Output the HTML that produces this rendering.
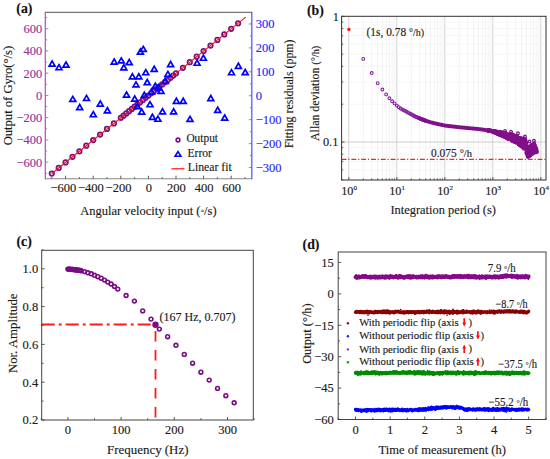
<!DOCTYPE html>
<html><head><meta charset="utf-8"><title>Figure</title>
<style>
html,body{margin:0;padding:0;background:#fff;}
body{width:550px;height:459px;overflow:hidden;}
svg{display:block;}
text{font-family:"Liberation Serif",serif;}
</style></head><body>
<svg width="550" height="459" viewBox="0 0 550 459">
<rect width="550" height="459" fill="#fff"/>
<g fill="none" stroke="#741282" stroke-width="1.75">
<circle cx="51.8" cy="173.51" r="2.25"/>
<circle cx="58.7" cy="167.94" r="2.25"/>
<circle cx="65.6" cy="162.38" r="2.25"/>
<circle cx="72.5" cy="156.81" r="2.25"/>
<circle cx="79.4" cy="151.25" r="2.25"/>
<circle cx="86.3" cy="145.69" r="2.25"/>
<circle cx="93.2" cy="140.12" r="2.25"/>
<circle cx="100.1" cy="134.56" r="2.25"/>
<circle cx="107" cy="128.99" r="2.25"/>
<circle cx="113.9" cy="123.42" r="2.25"/>
<circle cx="120.8" cy="117.86" r="2.25"/>
<circle cx="123.56" cy="115.63" r="2.25"/>
<circle cx="126.32" cy="113.41" r="2.25"/>
<circle cx="129.08" cy="111.18" r="2.25"/>
<circle cx="131.84" cy="108.96" r="2.25"/>
<circle cx="134.6" cy="106.73" r="2.25"/>
<circle cx="137.36" cy="104.5" r="2.25"/>
<circle cx="140.12" cy="102.28" r="2.25"/>
<circle cx="142.88" cy="100.05" r="2.25"/>
<circle cx="145.64" cy="97.83" r="2.25"/>
<circle cx="148.4" cy="95.6" r="2.25"/>
<circle cx="151.16" cy="93.37" r="2.25"/>
<circle cx="153.92" cy="91.15" r="2.25"/>
<circle cx="156.68" cy="88.92" r="2.25"/>
<circle cx="159.44" cy="86.7" r="2.25"/>
<circle cx="162.2" cy="84.47" r="2.25"/>
<circle cx="164.96" cy="82.24" r="2.25"/>
<circle cx="167.72" cy="80.02" r="2.25"/>
<circle cx="170.48" cy="77.79" r="2.25"/>
<circle cx="173.24" cy="75.57" r="2.25"/>
<circle cx="176" cy="73.34" r="2.25"/>
<circle cx="182.9" cy="67.77" r="2.25"/>
<circle cx="189.8" cy="62.21" r="2.25"/>
<circle cx="196.7" cy="56.64" r="2.25"/>
<circle cx="203.6" cy="51.08" r="2.25"/>
<circle cx="210.5" cy="45.51" r="2.25"/>
<circle cx="217.4" cy="39.95" r="2.25"/>
<circle cx="224.3" cy="34.38" r="2.25"/>
<circle cx="231.2" cy="28.82" r="2.25"/>
<circle cx="238.1" cy="23.25" r="2.25"/>
</g>
<line x1="51.52" y1="173.73" x2="245.69" y2="17.13" stroke="#ff1010" stroke-width="1.15" />
<g fill="none" stroke="#0000ff" stroke-width="1.7" stroke-linejoin="miter">
<path d="M52.1 61.05L55.05 66.14L49.15 66.14Z"/>
<path d="M59 64.65L61.95 69.74L56.05 69.74Z"/>
<path d="M66 61.95L68.95 67.04L63.05 67.04Z"/>
<path d="M72.8 96.35L75.75 101.44L69.85 101.44Z"/>
<path d="M79.7 104.55L82.65 109.64L76.75 109.64Z"/>
<path d="M86.5 95.35L89.45 100.44L83.55 100.44Z"/>
<path d="M93.3 111.65L96.25 116.74L90.35 116.74Z"/>
<path d="M100.3 101.05L103.25 106.14L97.35 106.14Z"/>
<path d="M107.4 107.75L110.35 112.84L104.45 112.84Z"/>
<path d="M114.2 58.95L117.15 64.04L111.25 64.04Z"/>
<path d="M121.3 57.85L124.25 62.94L118.35 62.94Z"/>
<path d="M123.8 64.75L126.75 69.84L120.85 69.84Z"/>
<path d="M126.5 91.95L129.45 97.04L123.55 97.04Z"/>
<path d="M129.2 59.55L132.15 64.64L126.25 64.64Z"/>
<path d="M132.4 73.75L135.35 78.84L129.45 78.84Z"/>
<path d="M134.7 96.05L137.65 101.14L131.75 101.14Z"/>
<path d="M136 81.85L138.95 86.94L133.05 86.94Z"/>
<path d="M137.3 103.65L140.25 108.74L134.35 108.74Z"/>
<path d="M138.8 73.75L141.75 78.84L135.85 78.84Z"/>
<path d="M140.4 48.95L143.35 54.04L137.45 54.04Z"/>
<path d="M141.7 109.05L144.65 114.14L138.75 114.14Z"/>
<path d="M143.3 46.35L146.25 51.44L140.35 51.44Z"/>
<path d="M144.3 92.25L147.25 97.34L141.35 97.34Z"/>
<path d="M145.8 69.65L148.75 74.74L142.85 74.74Z"/>
<path d="M147.2 79.55L150.15 84.64L144.25 84.64Z"/>
<path d="M150 101.65L152.95 106.74L147.05 106.74Z"/>
<path d="M151.4 88.95L154.35 94.04L148.45 94.04Z"/>
<path d="M152.4 114.25L155.35 119.34L149.45 119.34Z"/>
<path d="M154.2 66.25L157.15 71.34L151.25 71.34Z"/>
<path d="M155.3 83.25L158.25 88.34L152.35 88.34Z"/>
<path d="M157.9 116.15L160.85 121.24L154.95 121.24Z"/>
<path d="M158.8 84.75L161.75 89.84L155.85 89.84Z"/>
<path d="M161 88.25L163.95 93.34L158.05 93.34Z"/>
<path d="M162.5 108.75L165.45 113.84L159.55 113.84Z"/>
<path d="M165.2 78.25L168.15 83.34L162.25 83.34Z"/>
<path d="M167.9 71.35L170.85 76.44L164.95 76.44Z"/>
<path d="M170.6 61.55L173.55 66.64L167.65 66.64Z"/>
<path d="M173.6 108.75L176.55 113.84L170.65 113.84Z"/>
<path d="M176.4 98.25L179.35 103.34L173.45 103.34Z"/>
<path d="M183.2 98.25L186.15 103.34L180.25 103.34Z"/>
<path d="M190 116.35L192.95 121.44L187.05 121.44Z"/>
<path d="M197.1 60.15L200.05 65.24L194.15 65.24Z"/>
<path d="M203.4 55.15L206.35 60.24L200.45 60.24Z"/>
<path d="M210.8 95.55L213.75 100.64L207.85 100.64Z"/>
<path d="M217.7 107.25L220.65 112.34L214.75 112.34Z"/>
<path d="M224.7 114.95L227.65 120.04L221.75 120.04Z"/>
<path d="M231.5 69.65L234.45 74.74L228.55 74.74Z"/>
<path d="M238.4 63.25L241.35 68.34L235.45 68.34Z"/>
<path d="M245.2 69.55L248.15 74.64L242.25 74.64Z"/>
</g>
<line x1="45.3" y1="12.3" x2="251.8" y2="12.3" stroke="#555" stroke-width="1" />
<line x1="45.3" y1="178.7" x2="251.8" y2="178.7" stroke="#888" stroke-width="1.1" />
<line x1="45.3" y1="11.8" x2="45.3" y2="179.2" stroke="#a555b5" stroke-width="1.2" />
<line x1="251.8" y1="11.8" x2="251.8" y2="179.2" stroke="#5a5aff" stroke-width="1.3" />
<line x1="45.3" y1="173.32" x2="47.1" y2="173.32" stroke="#a555b5" stroke-width="0.8" />
<line x1="45.3" y1="162.2" x2="48.3" y2="162.2" stroke="#a555b5" stroke-width="0.8" />
<text x="42.3" y="166.5" font-size="12.5" text-anchor="end" fill="#98309a" stroke="#98309a" stroke-width="0.14" font-weight="normal" >&#8722;600</text>
<line x1="45.3" y1="151.07" x2="47.1" y2="151.07" stroke="#a555b5" stroke-width="0.8" />
<line x1="45.3" y1="139.95" x2="48.3" y2="139.95" stroke="#a555b5" stroke-width="0.8" />
<text x="42.3" y="144.25" font-size="12.5" text-anchor="end" fill="#98309a" stroke="#98309a" stroke-width="0.14" font-weight="normal" >&#8722;400</text>
<line x1="45.3" y1="128.82" x2="47.1" y2="128.82" stroke="#a555b5" stroke-width="0.8" />
<line x1="45.3" y1="117.7" x2="48.3" y2="117.7" stroke="#a555b5" stroke-width="0.8" />
<text x="42.3" y="122" font-size="12.5" text-anchor="end" fill="#98309a" stroke="#98309a" stroke-width="0.14" font-weight="normal" >&#8722;200</text>
<line x1="45.3" y1="106.58" x2="47.1" y2="106.58" stroke="#a555b5" stroke-width="0.8" />
<line x1="45.3" y1="95.45" x2="48.3" y2="95.45" stroke="#a555b5" stroke-width="0.8" />
<text x="42.3" y="99.75" font-size="12.5" text-anchor="end" fill="#98309a" stroke="#98309a" stroke-width="0.14" font-weight="normal" >0</text>
<line x1="45.3" y1="84.33" x2="47.1" y2="84.33" stroke="#a555b5" stroke-width="0.8" />
<line x1="45.3" y1="73.2" x2="48.3" y2="73.2" stroke="#a555b5" stroke-width="0.8" />
<text x="42.3" y="77.5" font-size="12.5" text-anchor="end" fill="#98309a" stroke="#98309a" stroke-width="0.14" font-weight="normal" >200</text>
<line x1="45.3" y1="62.08" x2="47.1" y2="62.08" stroke="#a555b5" stroke-width="0.8" />
<line x1="45.3" y1="50.95" x2="48.3" y2="50.95" stroke="#a555b5" stroke-width="0.8" />
<text x="42.3" y="55.25" font-size="12.5" text-anchor="end" fill="#98309a" stroke="#98309a" stroke-width="0.14" font-weight="normal" >400</text>
<line x1="45.3" y1="39.83" x2="47.1" y2="39.83" stroke="#a555b5" stroke-width="0.8" />
<line x1="45.3" y1="28.7" x2="48.3" y2="28.7" stroke="#a555b5" stroke-width="0.8" />
<text x="42.3" y="33" font-size="12.5" text-anchor="end" fill="#98309a" stroke="#98309a" stroke-width="0.14" font-weight="normal" >600</text>
<line x1="45.3" y1="17.58" x2="47.1" y2="17.58" stroke="#a555b5" stroke-width="0.8" />
<line x1="51.8" y1="178.7" x2="51.8" y2="177.1" stroke="#333" stroke-width="0.8" />
<line x1="65.6" y1="178.7" x2="65.6" y2="175.7" stroke="#333" stroke-width="0.8" />
<text x="63.3" y="191.6" font-size="12.5" text-anchor="middle" fill="#1a1a1a" stroke="#1a1a1a" stroke-width="0.14" font-weight="normal" >&#8722;600</text>
<line x1="79.4" y1="178.7" x2="79.4" y2="177.1" stroke="#333" stroke-width="0.8" />
<line x1="93.2" y1="178.7" x2="93.2" y2="175.7" stroke="#333" stroke-width="0.8" />
<text x="90.9" y="191.6" font-size="12.5" text-anchor="middle" fill="#1a1a1a" stroke="#1a1a1a" stroke-width="0.14" font-weight="normal" >&#8722;400</text>
<line x1="107" y1="178.7" x2="107" y2="177.1" stroke="#333" stroke-width="0.8" />
<line x1="120.8" y1="178.7" x2="120.8" y2="175.7" stroke="#333" stroke-width="0.8" />
<text x="118.5" y="191.6" font-size="12.5" text-anchor="middle" fill="#1a1a1a" stroke="#1a1a1a" stroke-width="0.14" font-weight="normal" >&#8722;200</text>
<line x1="134.6" y1="178.7" x2="134.6" y2="177.1" stroke="#333" stroke-width="0.8" />
<line x1="148.4" y1="178.7" x2="148.4" y2="175.7" stroke="#333" stroke-width="0.8" />
<text x="148.8" y="191.6" font-size="12.5" text-anchor="middle" fill="#1a1a1a" stroke="#1a1a1a" stroke-width="0.14" font-weight="normal" >0</text>
<line x1="162.2" y1="178.7" x2="162.2" y2="177.1" stroke="#333" stroke-width="0.8" />
<line x1="176" y1="178.7" x2="176" y2="175.7" stroke="#333" stroke-width="0.8" />
<text x="176.4" y="191.6" font-size="12.5" text-anchor="middle" fill="#1a1a1a" stroke="#1a1a1a" stroke-width="0.14" font-weight="normal" >200</text>
<line x1="189.8" y1="178.7" x2="189.8" y2="177.1" stroke="#333" stroke-width="0.8" />
<line x1="203.6" y1="178.7" x2="203.6" y2="175.7" stroke="#333" stroke-width="0.8" />
<text x="204" y="191.6" font-size="12.5" text-anchor="middle" fill="#1a1a1a" stroke="#1a1a1a" stroke-width="0.14" font-weight="normal" >400</text>
<line x1="217.4" y1="178.7" x2="217.4" y2="177.1" stroke="#333" stroke-width="0.8" />
<line x1="231.2" y1="178.7" x2="231.2" y2="175.7" stroke="#333" stroke-width="0.8" />
<text x="231.6" y="191.6" font-size="12.5" text-anchor="middle" fill="#1a1a1a" stroke="#1a1a1a" stroke-width="0.14" font-weight="normal" >600</text>
<line x1="245" y1="178.7" x2="245" y2="177.1" stroke="#333" stroke-width="0.8" />
<line x1="251.8" y1="167.54" x2="248.8" y2="167.54" stroke="#5a5aff" stroke-width="0.8" />
<text x="255.8" y="171.84" font-size="12.5" text-anchor="start" fill="#2626ff" stroke="#2626ff" stroke-width="0.14" font-weight="normal" >&#8722;300</text>
<line x1="251.8" y1="155.57" x2="250" y2="155.57" stroke="#5a5aff" stroke-width="0.8" />
<line x1="251.8" y1="143.61" x2="248.8" y2="143.61" stroke="#5a5aff" stroke-width="0.8" />
<text x="255.8" y="147.91" font-size="12.5" text-anchor="start" fill="#2626ff" stroke="#2626ff" stroke-width="0.14" font-weight="normal" >&#8722;200</text>
<line x1="251.8" y1="131.65" x2="250" y2="131.65" stroke="#5a5aff" stroke-width="0.8" />
<line x1="251.8" y1="119.68" x2="248.8" y2="119.68" stroke="#5a5aff" stroke-width="0.8" />
<text x="255.8" y="123.98" font-size="12.5" text-anchor="start" fill="#2626ff" stroke="#2626ff" stroke-width="0.14" font-weight="normal" >&#8722;100</text>
<line x1="251.8" y1="107.72" x2="250" y2="107.72" stroke="#5a5aff" stroke-width="0.8" />
<line x1="251.8" y1="95.75" x2="248.8" y2="95.75" stroke="#5a5aff" stroke-width="0.8" />
<text x="255.8" y="100.05" font-size="12.5" text-anchor="start" fill="#2626ff" stroke="#2626ff" stroke-width="0.14" font-weight="normal" >0</text>
<line x1="251.8" y1="83.78" x2="250" y2="83.78" stroke="#5a5aff" stroke-width="0.8" />
<line x1="251.8" y1="71.82" x2="248.8" y2="71.82" stroke="#5a5aff" stroke-width="0.8" />
<text x="255.8" y="76.12" font-size="12.5" text-anchor="start" fill="#2626ff" stroke="#2626ff" stroke-width="0.14" font-weight="normal" >100</text>
<line x1="251.8" y1="59.85" x2="250" y2="59.85" stroke="#5a5aff" stroke-width="0.8" />
<line x1="251.8" y1="47.89" x2="248.8" y2="47.89" stroke="#5a5aff" stroke-width="0.8" />
<text x="255.8" y="52.19" font-size="12.5" text-anchor="start" fill="#2626ff" stroke="#2626ff" stroke-width="0.14" font-weight="normal" >200</text>
<line x1="251.8" y1="35.92" x2="250" y2="35.92" stroke="#5a5aff" stroke-width="0.8" />
<line x1="251.8" y1="23.96" x2="248.8" y2="23.96" stroke="#5a5aff" stroke-width="0.8" />
<text x="255.8" y="28.26" font-size="12.5" text-anchor="start" fill="#2626ff" stroke="#2626ff" stroke-width="0.14" font-weight="normal" >300</text>
<text x="16.3" y="13.4" font-size="13.8" text-anchor="start" fill="#111" stroke="#111" stroke-width="0.14" font-weight="bold" >(a)</text>
<text id="A_tb" x="148.4" y="214.9" font-size="12.4" text-anchor="middle" fill="#1a1a1a" stroke="#1a1a1a" stroke-width="0.14" font-weight="normal" textLength="136.38" lengthAdjust="spacingAndGlyphs">Angular velocity input (<tspan font-size="10" dy="-1">&#9702;</tspan><tspan dy="1">/s)</tspan></text>
<text id="A_tl" transform="translate(12.4,95.6) rotate(-90)" font-size="12.6" text-anchor="middle" fill="#1a1a1a" stroke="#1a1a1a" stroke-width="0.14" font-weight="normal" textLength="99.48" lengthAdjust="spacingAndGlyphs">Output of Gyro(&#176;/s)</text>
<text id="A_tr" transform="translate(292.6,93.8) rotate(-90)" font-size="12.0" text-anchor="middle" fill="#1a1a1a" stroke="#1a1a1a" stroke-width="0.14" font-weight="normal" textLength="108.60" lengthAdjust="spacingAndGlyphs">Fitting residuals (ppm)</text>
<circle cx="178" cy="140" r="1.85" fill="none" stroke="#741282" stroke-width="1.6"/>
<text id="A_o" x="186.4" y="142.2" font-size="11.5" text-anchor="start" fill="#1a1a1a" stroke="#1a1a1a" stroke-width="0.14" font-weight="normal" textLength="31.64" lengthAdjust="spacingAndGlyphs">Output</text>
<path d="M178 151.6L180.9 156.2L175.1 156.2Z" fill="none" stroke="#0000ff" stroke-width="1.6"/>
<text id="A_e" x="187.5" y="157.3" font-size="11.5" text-anchor="start" fill="#1a1a1a" stroke="#1a1a1a" stroke-width="0.14" font-weight="normal" textLength="24.44" lengthAdjust="spacingAndGlyphs">Error</text>
<line x1="171.5" y1="168.8" x2="184.5" y2="168.8" stroke="#ff1010" stroke-width="1.2" />
<text id="A_lf" x="187.8" y="171.3" font-size="11.5" text-anchor="start" fill="#1a1a1a" stroke="#1a1a1a" stroke-width="0.14" font-weight="normal" textLength="43.94" lengthAdjust="spacingAndGlyphs">Linear fit</text>
<line x1="348.8" y1="16.3" x2="348.8" y2="180" stroke="#cdcdcd" stroke-width="0.9" />
<line x1="363.25" y1="16.3" x2="363.25" y2="180" stroke="#f0f0f0" stroke-width="0.8" />
<line x1="371.7" y1="16.3" x2="371.7" y2="180" stroke="#f0f0f0" stroke-width="0.8" />
<line x1="377.7" y1="16.3" x2="377.7" y2="180" stroke="#f0f0f0" stroke-width="0.8" />
<line x1="382.35" y1="16.3" x2="382.35" y2="180" stroke="#f0f0f0" stroke-width="0.8" />
<line x1="386.15" y1="16.3" x2="386.15" y2="180" stroke="#f0f0f0" stroke-width="0.8" />
<line x1="389.36" y1="16.3" x2="389.36" y2="180" stroke="#f0f0f0" stroke-width="0.8" />
<line x1="392.15" y1="16.3" x2="392.15" y2="180" stroke="#f0f0f0" stroke-width="0.8" />
<line x1="394.6" y1="16.3" x2="394.6" y2="180" stroke="#f0f0f0" stroke-width="0.8" />
<line x1="396.8" y1="16.3" x2="396.8" y2="180" stroke="#cdcdcd" stroke-width="0.9" />
<line x1="411.25" y1="16.3" x2="411.25" y2="180" stroke="#f0f0f0" stroke-width="0.8" />
<line x1="419.7" y1="16.3" x2="419.7" y2="180" stroke="#f0f0f0" stroke-width="0.8" />
<line x1="425.7" y1="16.3" x2="425.7" y2="180" stroke="#f0f0f0" stroke-width="0.8" />
<line x1="430.35" y1="16.3" x2="430.35" y2="180" stroke="#f0f0f0" stroke-width="0.8" />
<line x1="434.15" y1="16.3" x2="434.15" y2="180" stroke="#f0f0f0" stroke-width="0.8" />
<line x1="437.36" y1="16.3" x2="437.36" y2="180" stroke="#f0f0f0" stroke-width="0.8" />
<line x1="440.15" y1="16.3" x2="440.15" y2="180" stroke="#f0f0f0" stroke-width="0.8" />
<line x1="442.6" y1="16.3" x2="442.6" y2="180" stroke="#f0f0f0" stroke-width="0.8" />
<line x1="444.8" y1="16.3" x2="444.8" y2="180" stroke="#cdcdcd" stroke-width="0.9" />
<line x1="459.25" y1="16.3" x2="459.25" y2="180" stroke="#f0f0f0" stroke-width="0.8" />
<line x1="467.7" y1="16.3" x2="467.7" y2="180" stroke="#f0f0f0" stroke-width="0.8" />
<line x1="473.7" y1="16.3" x2="473.7" y2="180" stroke="#f0f0f0" stroke-width="0.8" />
<line x1="478.35" y1="16.3" x2="478.35" y2="180" stroke="#f0f0f0" stroke-width="0.8" />
<line x1="482.15" y1="16.3" x2="482.15" y2="180" stroke="#f0f0f0" stroke-width="0.8" />
<line x1="485.36" y1="16.3" x2="485.36" y2="180" stroke="#f0f0f0" stroke-width="0.8" />
<line x1="488.15" y1="16.3" x2="488.15" y2="180" stroke="#f0f0f0" stroke-width="0.8" />
<line x1="490.6" y1="16.3" x2="490.6" y2="180" stroke="#f0f0f0" stroke-width="0.8" />
<line x1="492.8" y1="16.3" x2="492.8" y2="180" stroke="#cdcdcd" stroke-width="0.9" />
<line x1="507.25" y1="16.3" x2="507.25" y2="180" stroke="#f0f0f0" stroke-width="0.8" />
<line x1="515.7" y1="16.3" x2="515.7" y2="180" stroke="#f0f0f0" stroke-width="0.8" />
<line x1="521.7" y1="16.3" x2="521.7" y2="180" stroke="#f0f0f0" stroke-width="0.8" />
<line x1="526.35" y1="16.3" x2="526.35" y2="180" stroke="#f0f0f0" stroke-width="0.8" />
<line x1="530.15" y1="16.3" x2="530.15" y2="180" stroke="#f0f0f0" stroke-width="0.8" />
<line x1="533.36" y1="16.3" x2="533.36" y2="180" stroke="#f0f0f0" stroke-width="0.8" />
<line x1="536.15" y1="16.3" x2="536.15" y2="180" stroke="#f0f0f0" stroke-width="0.8" />
<line x1="538.6" y1="16.3" x2="538.6" y2="180" stroke="#f0f0f0" stroke-width="0.8" />
<line x1="540.8" y1="16.3" x2="540.8" y2="180" stroke="#cdcdcd" stroke-width="0.9" />
<line x1="341.6" y1="179.84" x2="546" y2="179.84" stroke="#f2f2f2" stroke-width="0.8" />
<line x1="341.6" y1="169.89" x2="546" y2="169.89" stroke="#f2f2f2" stroke-width="0.8" />
<line x1="341.6" y1="161.47" x2="546" y2="161.47" stroke="#f2f2f2" stroke-width="0.8" />
<line x1="341.6" y1="154.18" x2="546" y2="154.18" stroke="#f2f2f2" stroke-width="0.8" />
<line x1="341.6" y1="147.75" x2="546" y2="147.75" stroke="#f2f2f2" stroke-width="0.8" />
<line x1="341.6" y1="142" x2="546" y2="142" stroke="#c8c8c8" stroke-width="0.9" />
<line x1="341.6" y1="104.16" x2="546" y2="104.16" stroke="#f2f2f2" stroke-width="0.8" />
<line x1="341.6" y1="82.03" x2="546" y2="82.03" stroke="#f2f2f2" stroke-width="0.8" />
<line x1="341.6" y1="66.32" x2="546" y2="66.32" stroke="#f2f2f2" stroke-width="0.8" />
<line x1="341.6" y1="54.14" x2="546" y2="54.14" stroke="#f2f2f2" stroke-width="0.8" />
<line x1="341.6" y1="44.19" x2="546" y2="44.19" stroke="#f2f2f2" stroke-width="0.8" />
<line x1="341.6" y1="35.77" x2="546" y2="35.77" stroke="#f2f2f2" stroke-width="0.8" />
<line x1="341.6" y1="28.48" x2="546" y2="28.48" stroke="#f2f2f2" stroke-width="0.8" />
<line x1="341.6" y1="22.05" x2="546" y2="22.05" stroke="#f2f2f2" stroke-width="0.8" />
<line x1="348.8" y1="180" x2="348.8" y2="177" stroke="#333" stroke-width="0.8" />
<line x1="363.25" y1="180" x2="363.25" y2="178.4" stroke="#333" stroke-width="0.8" />
<line x1="371.7" y1="180" x2="371.7" y2="178.4" stroke="#333" stroke-width="0.8" />
<line x1="377.7" y1="180" x2="377.7" y2="178.4" stroke="#333" stroke-width="0.8" />
<line x1="382.35" y1="180" x2="382.35" y2="178.4" stroke="#333" stroke-width="0.8" />
<line x1="386.15" y1="180" x2="386.15" y2="178.4" stroke="#333" stroke-width="0.8" />
<line x1="389.36" y1="180" x2="389.36" y2="178.4" stroke="#333" stroke-width="0.8" />
<line x1="392.15" y1="180" x2="392.15" y2="178.4" stroke="#333" stroke-width="0.8" />
<line x1="394.6" y1="180" x2="394.6" y2="178.4" stroke="#333" stroke-width="0.8" />
<line x1="396.8" y1="180" x2="396.8" y2="177" stroke="#333" stroke-width="0.8" />
<line x1="411.25" y1="180" x2="411.25" y2="178.4" stroke="#333" stroke-width="0.8" />
<line x1="419.7" y1="180" x2="419.7" y2="178.4" stroke="#333" stroke-width="0.8" />
<line x1="425.7" y1="180" x2="425.7" y2="178.4" stroke="#333" stroke-width="0.8" />
<line x1="430.35" y1="180" x2="430.35" y2="178.4" stroke="#333" stroke-width="0.8" />
<line x1="434.15" y1="180" x2="434.15" y2="178.4" stroke="#333" stroke-width="0.8" />
<line x1="437.36" y1="180" x2="437.36" y2="178.4" stroke="#333" stroke-width="0.8" />
<line x1="440.15" y1="180" x2="440.15" y2="178.4" stroke="#333" stroke-width="0.8" />
<line x1="442.6" y1="180" x2="442.6" y2="178.4" stroke="#333" stroke-width="0.8" />
<line x1="444.8" y1="180" x2="444.8" y2="177" stroke="#333" stroke-width="0.8" />
<line x1="459.25" y1="180" x2="459.25" y2="178.4" stroke="#333" stroke-width="0.8" />
<line x1="467.7" y1="180" x2="467.7" y2="178.4" stroke="#333" stroke-width="0.8" />
<line x1="473.7" y1="180" x2="473.7" y2="178.4" stroke="#333" stroke-width="0.8" />
<line x1="478.35" y1="180" x2="478.35" y2="178.4" stroke="#333" stroke-width="0.8" />
<line x1="482.15" y1="180" x2="482.15" y2="178.4" stroke="#333" stroke-width="0.8" />
<line x1="485.36" y1="180" x2="485.36" y2="178.4" stroke="#333" stroke-width="0.8" />
<line x1="488.15" y1="180" x2="488.15" y2="178.4" stroke="#333" stroke-width="0.8" />
<line x1="490.6" y1="180" x2="490.6" y2="178.4" stroke="#333" stroke-width="0.8" />
<line x1="492.8" y1="180" x2="492.8" y2="177" stroke="#333" stroke-width="0.8" />
<line x1="507.25" y1="180" x2="507.25" y2="178.4" stroke="#333" stroke-width="0.8" />
<line x1="515.7" y1="180" x2="515.7" y2="178.4" stroke="#333" stroke-width="0.8" />
<line x1="521.7" y1="180" x2="521.7" y2="178.4" stroke="#333" stroke-width="0.8" />
<line x1="526.35" y1="180" x2="526.35" y2="178.4" stroke="#333" stroke-width="0.8" />
<line x1="530.15" y1="180" x2="530.15" y2="178.4" stroke="#333" stroke-width="0.8" />
<line x1="533.36" y1="180" x2="533.36" y2="178.4" stroke="#333" stroke-width="0.8" />
<line x1="536.15" y1="180" x2="536.15" y2="178.4" stroke="#333" stroke-width="0.8" />
<line x1="538.6" y1="180" x2="538.6" y2="178.4" stroke="#333" stroke-width="0.8" />
<line x1="540.8" y1="180" x2="540.8" y2="177" stroke="#333" stroke-width="0.8" />
<line x1="341.6" y1="179.84" x2="343.2" y2="179.84" stroke="#333" stroke-width="0.8" />
<line x1="341.6" y1="169.89" x2="343.2" y2="169.89" stroke="#333" stroke-width="0.8" />
<line x1="341.6" y1="161.47" x2="343.2" y2="161.47" stroke="#333" stroke-width="0.8" />
<line x1="341.6" y1="154.18" x2="343.2" y2="154.18" stroke="#333" stroke-width="0.8" />
<line x1="341.6" y1="147.75" x2="343.2" y2="147.75" stroke="#333" stroke-width="0.8" />
<line x1="341.6" y1="142" x2="344.6" y2="142" stroke="#333" stroke-width="0.8" />
<line x1="341.6" y1="104.16" x2="343.2" y2="104.16" stroke="#333" stroke-width="0.8" />
<line x1="341.6" y1="82.03" x2="343.2" y2="82.03" stroke="#333" stroke-width="0.8" />
<line x1="341.6" y1="66.32" x2="343.2" y2="66.32" stroke="#333" stroke-width="0.8" />
<line x1="341.6" y1="54.14" x2="343.2" y2="54.14" stroke="#333" stroke-width="0.8" />
<line x1="341.6" y1="44.19" x2="343.2" y2="44.19" stroke="#333" stroke-width="0.8" />
<line x1="341.6" y1="35.77" x2="343.2" y2="35.77" stroke="#333" stroke-width="0.8" />
<line x1="341.6" y1="28.48" x2="343.2" y2="28.48" stroke="#333" stroke-width="0.8" />
<line x1="341.6" y1="22.05" x2="343.2" y2="22.05" stroke="#333" stroke-width="0.8" />
<line x1="341.6" y1="16.3" x2="344.6" y2="16.3" stroke="#333" stroke-width="0.8" />
<line x1="341.6" y1="159.4" x2="546" y2="159.4" stroke="#ff2020" stroke-width="1.1" stroke-dasharray="4.9 1.8 1.2 1.9"/>
<g fill="none" stroke="#8a22a0" stroke-width="1.1">
<circle cx="363.25" cy="58.89" r="1.4"/>
<circle cx="371.7" cy="73.04" r="1.4"/>
<circle cx="377.7" cy="83.16" r="1.4"/>
<circle cx="382.35" cy="89.5" r="1.4"/>
<circle cx="386.15" cy="94.41" r="1.4"/>
<circle cx="389.36" cy="98.24" r="1.4"/>
<circle cx="392.15" cy="101.23" r="1.4"/>
<circle cx="394.6" cy="103.42" r="1.4"/>
<circle cx="396.8" cy="105.6" r="1.4"/>
<circle cx="398.79" cy="107.21" r="1.4"/>
<circle cx="400.6" cy="108.52" r="1.4"/>
<circle cx="402.27" cy="109.43" r="1.4"/>
<circle cx="403.81" cy="110.26" r="1.4"/>
<circle cx="405.25" cy="111.04" r="1.4"/>
<circle cx="406.6" cy="111.76" r="1.4"/>
<circle cx="407.86" cy="112.45" r="1.4"/>
<circle cx="409.05" cy="113.09" r="1.4"/>
<circle cx="410.18" cy="113.7" r="1.4"/>
<circle cx="411.25" cy="114.3" r="1.4"/>
<circle cx="412.27" cy="114.87" r="1.4"/>
<circle cx="413.24" cy="115.41" r="1.4"/>
<circle cx="414.16" cy="115.93" r="1.4"/>
<circle cx="415.05" cy="116.42" r="1.4"/>
<circle cx="415.9" cy="116.78" r="1.4"/>
<circle cx="416.72" cy="117.12" r="1.4"/>
<circle cx="417.51" cy="117.45" r="1.4"/>
<circle cx="418.26" cy="117.77" r="1.4"/>
<circle cx="419" cy="118.08" r="1.4"/>
<circle cx="419.7" cy="118.37" r="1.4"/>
<circle cx="420.39" cy="118.65" r="1.4"/>
<circle cx="421.05" cy="118.92" r="1.4"/>
<circle cx="421.69" cy="119.18" r="1.4"/>
<circle cx="422.31" cy="119.42" r="1.4"/>
<circle cx="422.92" cy="119.67" r="1.4"/>
<circle cx="423.5" cy="119.9" r="1.4"/>
<circle cx="424.07" cy="120.13" r="1.4"/>
<circle cx="424.63" cy="120.35" r="1.4"/>
<circle cx="425.17" cy="120.55" r="1.4"/>
<circle cx="425.7" cy="120.72" r="1.4"/>
</g>
<polyline fill="none" stroke="#80108a" stroke-width="3.9" stroke-linecap="round" stroke-linejoin="round" points="419.7,118.37 420.2,118.58 420.7,118.78 421.2,118.98 421.7,119.18 422.2,119.38 422.7,119.58 423.2,119.78 423.7,119.98 424.2,120.18 424.7,120.38 425.2,120.56 425.7,120.72 426.2,120.88 426.7,121.04 427.2,121.2 427.7,121.36 428.2,121.52 428.7,121.68 429.2,121.84 429.7,122 430.2,122.15 430.7,122.28 431.2,122.41 431.7,122.54 432.2,122.67 432.7,122.8 433.2,122.93 433.7,123.06 434.2,123.19 434.7,123.32 435.2,123.44 435.7,123.55 436.2,123.66 436.7,123.77 437.2,123.88 437.7,123.99 438.2,124.1 438.7,124.21 439.2,124.32 439.7,124.43 440.2,124.54 440.7,124.65 441.2,124.76 441.7,124.87 442.2,124.98 442.7,125.09 443.2,125.2 443.7,125.31 444.2,125.42 444.7,125.53 445.2,125.62 445.7,125.68 446.2,125.74 446.7,125.79 447.2,125.85 447.7,125.91 448.2,125.96 448.7,126.02 449.2,126.08 449.7,126.13 450.2,126.19 450.7,126.25 451.2,126.3 451.7,126.36 452.2,126.42 452.7,126.47 453.2,126.53 453.7,126.59 454.2,126.64 454.7,126.7 455.2,126.76 455.7,126.81 456.2,126.87 456.7,126.93 457.2,126.98 457.7,127.04 458.2,127.1 458.7,127.15 459.2,127.21 459.7,127.27 460.2,127.32 460.7,127.37 461.2,127.41 461.7,127.46 462.2,127.51 462.7,127.56 463.2,127.6 463.7,127.65 464.2,127.7 464.7,127.75 465.2,127.79 465.7,127.84 466.2,127.89 466.7,127.94 467.2,127.98 467.7,128.03 468.2,128.08 468.7,128.13 469.2,128.17 469.7,128.22 470.2,128.27 470.7,128.32 471.2,128.36 471.7,128.41 472.2,128.46 472.7,128.51 473.2,128.55 473.7,128.6 474.2,128.65 474.7,128.7 475.2,128.74 475.7,128.79 476.2,128.84 476.7,128.89 477.2,128.93 477.7,128.98 478.2,129.03 478.7,129.08 479.2,129.12 479.7,129.17 480.2,129.23 480.7,129.31 481.2,129.39 481.7,129.47 482.2,129.55 482.7,129.63 483.2,129.71 483.7,129.79 484.2,129.87 484.7,129.94 485.2,130.02 485.7,130.1 486.2,130.18 486.7,130.26 487.2,130.34 487.7,130.42 488.2,130.5 488.7,130.58 489.2,130.66 489.7,130.74 490.2,130.82 490.7,130.89 491.2,130.97 491.7,131.05 492.2,131.16 492.7,131.31 493.2,131.46 493.7,131.61 494.2,131.76 494.7,131.91 495.2,132.06 495.7,132.21 496.2,132.36 496.7,132.51 497.2,132.66 497.7,132.81 498.2,132.96 498.7,133.11 499.2,133.26 499.7,133.41"/>
<g fill="none" stroke="#80108a" stroke-width="1.25">
<circle cx="503.87" cy="133.3" r="1.35"/>
<circle cx="519.9" cy="138.04" r="1.35"/>
<circle cx="514.26" cy="137.77" r="1.35"/>
<circle cx="490.84" cy="130.92" r="1.35"/>
<circle cx="489.84" cy="130.76" r="1.35"/>
<circle cx="491.42" cy="130.82" r="1.35"/>
<circle cx="508.8" cy="138.3" r="1.35"/>
<circle cx="494.07" cy="131.36" r="1.35"/>
<circle cx="518.74" cy="144.3" r="1.35"/>
<circle cx="516.28" cy="138.92" r="1.35"/>
<circle cx="535.84" cy="147.88" r="1.35"/>
<circle cx="530.06" cy="148.38" r="1.35"/>
<circle cx="495.07" cy="131.4" r="1.35"/>
<circle cx="503.12" cy="135.74" r="1.35"/>
<circle cx="496.86" cy="132.74" r="1.35"/>
<circle cx="519.31" cy="140.16" r="1.35"/>
<circle cx="514.84" cy="136.04" r="1.35"/>
<circle cx="490.92" cy="130.84" r="1.35"/>
<circle cx="521.34" cy="141.53" r="1.35"/>
<circle cx="503.39" cy="134.93" r="1.35"/>
<circle cx="510.21" cy="135.47" r="1.35"/>
<circle cx="526.92" cy="151.14" r="1.35"/>
<circle cx="499.96" cy="133.73" r="1.35"/>
<circle cx="513.73" cy="140.89" r="1.35"/>
<circle cx="523.74" cy="141.2" r="1.35"/>
<circle cx="536.03" cy="148.69" r="1.35"/>
<circle cx="508.49" cy="137.74" r="1.35"/>
<circle cx="495.45" cy="132.11" r="1.35"/>
<circle cx="489.92" cy="130.77" r="1.35"/>
<circle cx="525.46" cy="145.99" r="1.35"/>
<circle cx="530.9" cy="148.29" r="1.35"/>
<circle cx="522.07" cy="143.41" r="1.35"/>
<circle cx="516.41" cy="139.4" r="1.35"/>
<circle cx="529.16" cy="155.76" r="1.35"/>
<circle cx="511.23" cy="138.35" r="1.35"/>
<circle cx="490.97" cy="131" r="1.35"/>
<circle cx="519.71" cy="145.26" r="1.35"/>
<circle cx="528.27" cy="149" r="1.35"/>
<circle cx="506.9" cy="136.59" r="1.35"/>
<circle cx="489.11" cy="130.64" r="1.35"/>
<circle cx="496.23" cy="131.61" r="1.35"/>
<circle cx="490.89" cy="131" r="1.35"/>
<circle cx="494.34" cy="131.45" r="1.35"/>
<circle cx="507.16" cy="137.78" r="1.35"/>
<circle cx="491.95" cy="131.06" r="1.35"/>
<circle cx="514.92" cy="141.49" r="1.35"/>
<circle cx="528.14" cy="155.71" r="1.35"/>
<circle cx="501.64" cy="133.72" r="1.35"/>
<circle cx="505.58" cy="137.07" r="1.35"/>
<circle cx="534.93" cy="146.32" r="1.35"/>
<circle cx="496.63" cy="131.92" r="1.35"/>
<circle cx="499.43" cy="133.28" r="1.35"/>
<circle cx="516.87" cy="138.24" r="1.35"/>
<circle cx="488.2" cy="130.5" r="1.35"/>
<circle cx="506.09" cy="135.77" r="1.35"/>
<circle cx="534.7" cy="150.14" r="1.35"/>
<circle cx="513.26" cy="138.98" r="1.35"/>
<circle cx="521.13" cy="138.2" r="1.35"/>
<circle cx="532.08" cy="151.87" r="1.35"/>
<circle cx="530.85" cy="152.91" r="1.35"/>
<circle cx="507.23" cy="135.27" r="1.35"/>
<circle cx="493.07" cy="131.55" r="1.35"/>
<circle cx="491.05" cy="130.8" r="1.35"/>
<circle cx="498.23" cy="132.08" r="1.35"/>
<circle cx="504.66" cy="133.06" r="1.35"/>
<circle cx="488.01" cy="130.47" r="1.35"/>
<circle cx="492.97" cy="131.26" r="1.35"/>
<circle cx="489.25" cy="130.66" r="1.35"/>
<circle cx="518.09" cy="137.92" r="1.35"/>
<circle cx="500.36" cy="133.11" r="1.35"/>
<circle cx="505.84" cy="133.57" r="1.35"/>
<circle cx="529.6" cy="155.89" r="1.35"/>
<circle cx="510.83" cy="136.98" r="1.35"/>
<circle cx="492.21" cy="130.88" r="1.35"/>
<circle cx="504.79" cy="134.01" r="1.35"/>
<circle cx="528.61" cy="147.5" r="1.35"/>
<circle cx="489.13" cy="130.65" r="1.35"/>
<circle cx="513.88" cy="136.15" r="1.35"/>
<circle cx="514.62" cy="135.7" r="1.35"/>
<circle cx="513.88" cy="141.64" r="1.35"/>
<circle cx="530.3" cy="152.32" r="1.35"/>
<circle cx="500.79" cy="133.3" r="1.35"/>
<circle cx="496.19" cy="132.89" r="1.35"/>
<circle cx="514.1" cy="140.43" r="1.35"/>
<circle cx="504.15" cy="133.67" r="1.35"/>
<circle cx="527.76" cy="156.6" r="1.35"/>
<circle cx="529.78" cy="153.8" r="1.35"/>
<circle cx="528.1" cy="154.31" r="1.35"/>
<circle cx="499.11" cy="133.28" r="1.35"/>
<circle cx="505.42" cy="133.08" r="1.35"/>
<circle cx="489.37" cy="130.68" r="1.35"/>
<circle cx="500.7" cy="134.37" r="1.35"/>
<circle cx="534.87" cy="148.43" r="1.35"/>
<circle cx="533.91" cy="152.64" r="1.35"/>
<circle cx="534.8" cy="147.68" r="1.35"/>
<circle cx="498.8" cy="132.37" r="1.35"/>
<circle cx="497.64" cy="132.07" r="1.35"/>
<circle cx="518.58" cy="143.83" r="1.35"/>
<circle cx="529.18" cy="150.75" r="1.35"/>
<circle cx="520" cy="143.89" r="1.35"/>
<circle cx="492.15" cy="131.26" r="1.35"/>
<circle cx="532.58" cy="151.53" r="1.35"/>
<circle cx="524.76" cy="143.64" r="1.35"/>
<circle cx="496.75" cy="133.15" r="1.35"/>
<circle cx="504.29" cy="136.15" r="1.35"/>
<circle cx="535.61" cy="149.22" r="1.35"/>
<circle cx="507.67" cy="138.44" r="1.35"/>
<circle cx="523.52" cy="139.92" r="1.35"/>
<circle cx="494.22" cy="131.3" r="1.35"/>
<circle cx="532.34" cy="151.94" r="1.35"/>
<circle cx="495.16" cy="132.59" r="1.35"/>
<circle cx="536.03" cy="151.02" r="1.35"/>
<circle cx="505.17" cy="135.37" r="1.35"/>
<circle cx="494.42" cy="131.14" r="1.35"/>
<circle cx="535.57" cy="150.58" r="1.35"/>
<circle cx="513.8" cy="141.31" r="1.35"/>
<circle cx="509.26" cy="138.79" r="1.35"/>
<circle cx="528.48" cy="148.09" r="1.35"/>
<circle cx="500.34" cy="132.93" r="1.35"/>
<circle cx="499.79" cy="133.71" r="1.35"/>
<circle cx="500.71" cy="133.45" r="1.35"/>
<circle cx="494.42" cy="132.41" r="1.35"/>
<circle cx="505.34" cy="135.02" r="1.35"/>
<circle cx="516.58" cy="142.64" r="1.35"/>
<circle cx="508.61" cy="138.76" r="1.35"/>
<circle cx="512.58" cy="138.1" r="1.35"/>
<circle cx="513.65" cy="135.2" r="1.35"/>
<circle cx="509.57" cy="134.53" r="1.35"/>
<circle cx="488.19" cy="130.5" r="1.35"/>
<circle cx="496.44" cy="132.38" r="1.35"/>
<circle cx="523.53" cy="143.84" r="1.35"/>
<circle cx="503.97" cy="134.85" r="1.35"/>
<circle cx="515.22" cy="141" r="1.35"/>
<circle cx="493.2" cy="131.52" r="1.35"/>
<circle cx="500.18" cy="132.83" r="1.35"/>
<circle cx="525.84" cy="146.22" r="1.35"/>
<circle cx="515.52" cy="141.02" r="1.35"/>
<circle cx="532.71" cy="148.13" r="1.35"/>
<circle cx="518.01" cy="140.55" r="1.35"/>
<circle cx="513.1" cy="139.4" r="1.35"/>
<circle cx="510.16" cy="137" r="1.35"/>
<circle cx="511.42" cy="140.27" r="1.35"/>
<circle cx="522.26" cy="146.15" r="1.35"/>
<circle cx="534.17" cy="145.63" r="1.35"/>
<circle cx="515.42" cy="142.19" r="1.35"/>
<circle cx="529.16" cy="147.08" r="1.35"/>
<circle cx="493.96" cy="131.61" r="1.35"/>
<circle cx="491.55" cy="130.9" r="1.35"/>
<circle cx="491.58" cy="131.12" r="1.35"/>
<circle cx="526.41" cy="152.06" r="1.35"/>
<circle cx="495.57" cy="132.56" r="1.35"/>
<circle cx="520.35" cy="138.74" r="1.35"/>
<circle cx="531.26" cy="154.22" r="1.35"/>
<circle cx="498.76" cy="134.4" r="1.35"/>
<circle cx="507.51" cy="135.83" r="1.35"/>
<circle cx="536.5" cy="151.95" r="1.35"/>
<circle cx="495.91" cy="132.14" r="1.35"/>
<circle cx="513.26" cy="137.14" r="1.35"/>
<circle cx="497.59" cy="132.34" r="1.35"/>
<circle cx="523.39" cy="138.37" r="1.35"/>
<circle cx="515.15" cy="138.68" r="1.35"/>
<circle cx="488.89" cy="130.61" r="1.35"/>
<circle cx="518.57" cy="140.88" r="1.35"/>
<circle cx="491.15" cy="131.14" r="1.35"/>
<circle cx="526.63" cy="153.47" r="1.35"/>
<circle cx="493.13" cy="131.21" r="1.35"/>
<circle cx="489.94" cy="130.77" r="1.35"/>
<circle cx="501.25" cy="132.6" r="1.35"/>
<circle cx="508.69" cy="138.76" r="1.35"/>
<circle cx="528.13" cy="148.75" r="1.35"/>
<circle cx="495.32" cy="132.81" r="1.35"/>
<circle cx="515.96" cy="140.86" r="1.35"/>
<circle cx="492.38" cy="130.88" r="1.35"/>
<circle cx="521.72" cy="141.69" r="1.35"/>
<circle cx="491.55" cy="131.25" r="1.35"/>
<circle cx="519.09" cy="143.38" r="1.35"/>
<circle cx="492.1" cy="131.37" r="1.35"/>
<circle cx="491.26" cy="131.13" r="1.35"/>
<circle cx="510.23" cy="135.75" r="1.35"/>
<circle cx="515.1" cy="141.88" r="1.35"/>
<circle cx="501.13" cy="132.57" r="1.35"/>
<circle cx="513.82" cy="136.73" r="1.35"/>
<circle cx="493.36" cy="131.14" r="1.35"/>
<circle cx="490.47" cy="130.81" r="1.35"/>
<circle cx="503.29" cy="133.77" r="1.35"/>
<circle cx="525.22" cy="142.23" r="1.35"/>
<circle cx="512.5" cy="135.73" r="1.35"/>
<circle cx="505" cy="132.98" r="1.35"/>
<circle cx="500.27" cy="132" r="1.35"/>
<circle cx="523.92" cy="143.99" r="1.35"/>
<circle cx="497.28" cy="132.63" r="1.35"/>
<circle cx="533.8" cy="143.93" r="1.35"/>
<circle cx="528.13" cy="150.75" r="1.35"/>
<circle cx="512.26" cy="139.95" r="1.35"/>
<circle cx="507.26" cy="135.86" r="1.35"/>
<circle cx="521.7" cy="146.7" r="1.35"/>
<circle cx="504.79" cy="136.48" r="1.35"/>
<circle cx="522.63" cy="144.12" r="1.35"/>
<circle cx="507.83" cy="135.15" r="1.35"/>
<circle cx="490.67" cy="130.81" r="1.35"/>
<circle cx="491.47" cy="131.13" r="1.35"/>
<circle cx="500.52" cy="132.55" r="1.35"/>
<circle cx="492.14" cy="131.38" r="1.35"/>
<circle cx="530.66" cy="151.83" r="1.35"/>
<circle cx="501.81" cy="133.14" r="1.35"/>
<circle cx="502.36" cy="134.1" r="1.35"/>
<circle cx="495.72" cy="132.12" r="1.35"/>
<circle cx="500.9" cy="135.36" r="1.35"/>
<circle cx="535.66" cy="150.11" r="1.35"/>
<circle cx="499.98" cy="134.98" r="1.35"/>
<circle cx="503.17" cy="133.95" r="1.35"/>
<circle cx="488.05" cy="130.47" r="1.35"/>
<circle cx="511.26" cy="137.3" r="1.35"/>
<circle cx="497.85" cy="132.87" r="1.35"/>
<circle cx="488.24" cy="130.51" r="1.35"/>
<circle cx="492.4" cy="131.14" r="1.35"/>
<circle cx="490.04" cy="130.78" r="1.35"/>
<circle cx="502.91" cy="133.39" r="1.35"/>
<circle cx="516.69" cy="140.05" r="1.35"/>
<circle cx="524.78" cy="145.6" r="1.35"/>
<circle cx="523.08" cy="146.78" r="1.35"/>
<circle cx="507.09" cy="134.84" r="1.35"/>
<circle cx="536.25" cy="149.33" r="1.35"/>
<circle cx="523.48" cy="144.69" r="1.35"/>
<circle cx="490.15" cy="130.82" r="1.35"/>
<circle cx="531.71" cy="150.67" r="1.35"/>
<circle cx="523.96" cy="146.72" r="1.35"/>
<circle cx="494.83" cy="131.98" r="1.35"/>
<circle cx="512.71" cy="140.16" r="1.35"/>
<circle cx="527.43" cy="153.9" r="1.35"/>
<circle cx="516.62" cy="142.58" r="1.35"/>
<circle cx="521.46" cy="143.95" r="1.35"/>
<circle cx="499.27" cy="131.89" r="1.35"/>
<circle cx="494.52" cy="131.65" r="1.35"/>
<circle cx="493.14" cy="131.78" r="1.35"/>
<circle cx="515.37" cy="140.04" r="1.35"/>
<circle cx="518.69" cy="142.22" r="1.35"/>
<circle cx="511.98" cy="134.33" r="1.35"/>
<circle cx="527.09" cy="152.12" r="1.35"/>
<circle cx="512.65" cy="138.15" r="1.35"/>
<circle cx="520.31" cy="138.1" r="1.35"/>
<circle cx="524.1" cy="140.96" r="1.35"/>
<circle cx="491.65" cy="130.92" r="1.35"/>
<circle cx="523.74" cy="140.35" r="1.35"/>
<circle cx="524.25" cy="148.65" r="1.35"/>
<circle cx="512.2" cy="136.94" r="1.35"/>
<circle cx="511.47" cy="138.59" r="1.35"/>
<circle cx="525.58" cy="146.77" r="1.35"/>
<circle cx="519.5" cy="137.93" r="1.35"/>
<circle cx="495.22" cy="131.66" r="1.35"/>
<circle cx="524.42" cy="141.63" r="1.35"/>
<circle cx="515.82" cy="136.08" r="1.35"/>
<circle cx="490.97" cy="130.87" r="1.35"/>
<circle cx="520.93" cy="143.61" r="1.35"/>
<circle cx="521.11" cy="140.24" r="1.35"/>
<circle cx="513.31" cy="137.99" r="1.35"/>
<circle cx="510.85" cy="134.57" r="1.35"/>
<circle cx="531.79" cy="146.52" r="1.35"/>
<circle cx="535.93" cy="152.21" r="1.35"/>
<circle cx="488.86" cy="130.6" r="1.35"/>
<circle cx="528.17" cy="156.88" r="1.35"/>
<circle cx="510.02" cy="135.18" r="1.35"/>
<circle cx="498.28" cy="134.17" r="1.35"/>
<circle cx="498.32" cy="133.21" r="1.35"/>
<circle cx="494.95" cy="132.02" r="1.35"/>
<circle cx="534.68" cy="145.62" r="1.35"/>
<circle cx="528.19" cy="151.6" r="1.35"/>
<circle cx="531.46" cy="151.58" r="1.35"/>
<circle cx="499.34" cy="134.49" r="1.35"/>
<circle cx="511.82" cy="134.4" r="1.35"/>
<circle cx="488.18" cy="130.49" r="1.35"/>
<circle cx="510.09" cy="135.43" r="1.35"/>
<circle cx="494.89" cy="131.72" r="1.35"/>
<circle cx="503.49" cy="135.99" r="1.35"/>
<circle cx="488.09" cy="130.48" r="1.35"/>
<circle cx="529.12" cy="146.91" r="1.35"/>
<circle cx="533.39" cy="150.27" r="1.35"/>
<circle cx="532.18" cy="147.07" r="1.35"/>
<circle cx="506.24" cy="134.97" r="1.35"/>
<circle cx="536.94" cy="151.68" r="1.35"/>
<circle cx="505.67" cy="134.98" r="1.35"/>
<circle cx="501.48" cy="132.37" r="1.35"/>
<circle cx="492.98" cy="131.71" r="1.35"/>
<circle cx="502" cy="135.74" r="1.35"/>
<circle cx="500.22" cy="132.81" r="1.35"/>
<circle cx="513.04" cy="136.05" r="1.35"/>
<circle cx="506.29" cy="137.78" r="1.35"/>
<circle cx="531.33" cy="152.7" r="1.35"/>
<circle cx="518.91" cy="144.14" r="1.35"/>
<circle cx="534.09" cy="148.3" r="1.35"/>
<circle cx="523.26" cy="138.64" r="1.35"/>
<circle cx="523.89" cy="142.93" r="1.35"/>
<circle cx="524.88" cy="145.52" r="1.35"/>
<circle cx="502.02" cy="132.49" r="1.35"/>
<circle cx="533.41" cy="144.47" r="1.35"/>
<circle cx="511.14" cy="136.19" r="1.35"/>
<circle cx="502.59" cy="135.24" r="1.35"/>
<circle cx="535.84" cy="148.93" r="1.35"/>
<circle cx="520.14" cy="139.96" r="1.35"/>
<circle cx="515.31" cy="138.45" r="1.35"/>
<circle cx="496.2" cy="131.69" r="1.35"/>
<circle cx="498.19" cy="134.02" r="1.35"/>
<circle cx="512.36" cy="135.94" r="1.35"/>
<circle cx="532.41" cy="153.73" r="1.35"/>
<circle cx="510.05" cy="134.34" r="1.35"/>
<circle cx="497.43" cy="131.76" r="1.35"/>
<circle cx="504.76" cy="133.25" r="1.35"/>
<circle cx="499.72" cy="132.66" r="1.35"/>
<circle cx="515.91" cy="142.11" r="1.35"/>
<circle cx="524.73" cy="142.92" r="1.35"/>
<circle cx="508.28" cy="136.29" r="1.35"/>
<circle cx="506.47" cy="134.75" r="1.35"/>
<circle cx="491.04" cy="130.87" r="1.35"/>
<circle cx="535.42" cy="147.28" r="1.35"/>
<circle cx="512.67" cy="138.78" r="1.35"/>
<circle cx="530.28" cy="147.56" r="1.35"/>
<circle cx="501.28" cy="133.03" r="1.35"/>
<circle cx="507.59" cy="135.63" r="1.35"/>
<circle cx="534.74" cy="151.43" r="1.35"/>
<circle cx="530.77" cy="145.55" r="1.35"/>
<circle cx="489.58" cy="130.72" r="1.35"/>
<circle cx="531.89" cy="149.06" r="1.35"/>
<circle cx="516.77" cy="136.34" r="1.35"/>
<circle cx="507.18" cy="138.09" r="1.35"/>
<circle cx="528.45" cy="155.36" r="1.35"/>
<circle cx="535.64" cy="148.47" r="1.35"/>
<circle cx="493.34" cy="131.13" r="1.35"/>
<circle cx="513.6" cy="139.56" r="1.35"/>
<circle cx="534.13" cy="150.01" r="1.35"/>
<circle cx="519.72" cy="143.46" r="1.35"/>
<circle cx="510.41" cy="137.23" r="1.35"/>
<circle cx="489.94" cy="130.77" r="1.35"/>
<circle cx="499.4" cy="134.58" r="1.35"/>
<circle cx="519.63" cy="139.77" r="1.35"/>
<circle cx="494.27" cy="131.44" r="1.35"/>
<circle cx="519.18" cy="142.63" r="1.35"/>
<circle cx="493.49" cy="131.07" r="1.35"/>
<circle cx="513.7" cy="138.95" r="1.35"/>
<circle cx="507.02" cy="134.28" r="1.35"/>
<circle cx="517.45" cy="136.66" r="1.35"/>
<circle cx="502.77" cy="134.24" r="1.35"/>
<circle cx="534.99" cy="150.03" r="1.35"/>
<circle cx="531.3" cy="149.53" r="1.35"/>
<circle cx="499.5" cy="132.58" r="1.35"/>
<circle cx="535.07" cy="150.52" r="1.35"/>
<circle cx="503.06" cy="132.6" r="1.35"/>
<circle cx="512.42" cy="138.96" r="1.35"/>
<circle cx="508.58" cy="134.8" r="1.35"/>
<circle cx="520.7" cy="145.43" r="1.35"/>
<circle cx="499.11" cy="131.88" r="1.35"/>
<circle cx="504.56" cy="134.62" r="1.35"/>
<circle cx="521.45" cy="139.55" r="1.35"/>
<circle cx="527.06" cy="151.94" r="1.35"/>
<circle cx="512.74" cy="136.01" r="1.35"/>
<circle cx="535.52" cy="148.6" r="1.35"/>
<circle cx="528.18" cy="148.42" r="1.35"/>
<circle cx="498.85" cy="133.89" r="1.35"/>
<circle cx="502.45" cy="136" r="1.35"/>
<circle cx="512.29" cy="135.69" r="1.35"/>
<circle cx="498.94" cy="132.95" r="1.35"/>
<circle cx="520.6" cy="145.55" r="1.35"/>
<circle cx="495.17" cy="131.88" r="1.35"/>
<circle cx="498.43" cy="134.31" r="1.35"/>
<circle cx="494.95" cy="131.28" r="1.35"/>
<circle cx="490.95" cy="130.9" r="1.35"/>
<circle cx="532.01" cy="152.91" r="1.35"/>
<circle cx="523.9" cy="148.6" r="1.35"/>
<circle cx="533.65" cy="146.27" r="1.35"/>
<circle cx="497.09" cy="133.62" r="1.35"/>
<circle cx="524.57" cy="138.76" r="1.35"/>
<circle cx="520.56" cy="140.77" r="1.35"/>
<circle cx="506.32" cy="134.68" r="1.35"/>
<circle cx="496.29" cy="131.39" r="1.35"/>
<circle cx="501.71" cy="133.51" r="1.35"/>
<circle cx="534.82" cy="145.87" r="1.35"/>
<circle cx="535.25" cy="147.42" r="1.35"/>
<circle cx="505.47" cy="136.73" r="1.35"/>
<circle cx="528.28" cy="150.68" r="1.35"/>
<circle cx="490.41" cy="130.85" r="1.35"/>
<circle cx="506.26" cy="137.58" r="1.35"/>
<circle cx="497.46" cy="132.41" r="1.35"/>
<circle cx="531.95" cy="144.76" r="1.35"/>
<circle cx="508.13" cy="137.9" r="1.35"/>
<circle cx="525.57" cy="140.33" r="1.35"/>
<circle cx="489.71" cy="130.74" r="1.35"/>
<circle cx="533.08" cy="146.02" r="1.35"/>
<circle cx="524.62" cy="148.1" r="1.35"/>
<circle cx="504.61" cy="134" r="1.35"/>
<circle cx="534.93" cy="149.77" r="1.35"/>
<circle cx="500.85" cy="134.51" r="1.35"/>
<circle cx="503.51" cy="133.72" r="1.35"/>
<circle cx="488.18" cy="130.5" r="1.35"/>
<circle cx="532.91" cy="149.85" r="1.35"/>
<circle cx="534.22" cy="143.52" r="1.35"/>
<circle cx="499.46" cy="133.26" r="1.35"/>
<circle cx="534.88" cy="152.26" r="1.35"/>
<circle cx="506.94" cy="134.41" r="1.35"/>
<circle cx="509.07" cy="136.36" r="1.35"/>
<circle cx="533.48" cy="144.96" r="1.35"/>
<circle cx="527.33" cy="152.63" r="1.35"/>
<circle cx="528.32" cy="154.53" r="1.35"/>
<circle cx="517.76" cy="139.11" r="1.35"/>
<circle cx="503.66" cy="134.11" r="1.35"/>
<circle cx="526.33" cy="142.63" r="1.35"/>
<circle cx="497.67" cy="133.42" r="1.35"/>
<circle cx="500.12" cy="132.13" r="1.35"/>
<circle cx="489.66" cy="130.73" r="1.35"/>
<circle cx="503.96" cy="136.76" r="1.35"/>
<circle cx="531.29" cy="154.39" r="1.35"/>
<circle cx="500.98" cy="132.38" r="1.35"/>
<circle cx="492.72" cy="131.32" r="1.35"/>
<circle cx="522.78" cy="142.38" r="1.35"/>
<circle cx="499.48" cy="133.09" r="1.35"/>
<circle cx="518.4" cy="142.01" r="1.35"/>
<circle cx="524.65" cy="147.57" r="1.35"/>
<circle cx="520.56" cy="138.62" r="1.35"/>
<circle cx="529.2" cy="148.75" r="1.35"/>
<circle cx="515.78" cy="138.52" r="1.35"/>
<circle cx="524.17" cy="140.42" r="1.35"/>
<circle cx="500.12" cy="132.72" r="1.35"/>
<circle cx="495.51" cy="132.83" r="1.35"/>
<circle cx="516.34" cy="138.46" r="1.35"/>
<circle cx="507.41" cy="138.56" r="1.35"/>
<circle cx="512.86" cy="136.24" r="1.35"/>
<circle cx="527.61" cy="152.39" r="1.35"/>
<circle cx="536.56" cy="149.89" r="1.35"/>
<circle cx="511.26" cy="139.39" r="1.35"/>
<circle cx="529.19" cy="155.41" r="1.35"/>
<circle cx="489.98" cy="130.78" r="1.35"/>
<circle cx="493.84" cy="131.27" r="1.35"/>
<circle cx="535.68" cy="150.32" r="1.35"/>
<circle cx="533.58" cy="146.76" r="1.35"/>
<circle cx="530.44" cy="149.8" r="1.35"/>
<circle cx="500.74" cy="134.67" r="1.35"/>
<circle cx="534.34" cy="144.57" r="1.35"/>
<circle cx="517.21" cy="140.97" r="1.35"/>
<circle cx="498.66" cy="132.74" r="1.35"/>
<circle cx="494.93" cy="131.51" r="1.35"/>
<circle cx="500.49" cy="133.99" r="1.35"/>
<circle cx="519.93" cy="139.1" r="1.35"/>
<circle cx="488.56" cy="130.55" r="1.35"/>
<circle cx="521.24" cy="139.37" r="1.35"/>
<circle cx="503.3" cy="133.37" r="1.35"/>
<circle cx="526.97" cy="149.53" r="1.35"/>
<circle cx="491.1" cy="130.82" r="1.35"/>
<circle cx="507.37" cy="136.13" r="1.35"/>
<circle cx="519.32" cy="137.97" r="1.35"/>
<circle cx="496.02" cy="132.68" r="1.35"/>
<circle cx="508.08" cy="134.84" r="1.35"/>
<circle cx="503.07" cy="136.27" r="1.35"/>
<circle cx="503.31" cy="134.82" r="1.35"/>
<circle cx="505.5" cy="134.87" r="1.35"/>
<circle cx="530.35" cy="155.25" r="1.35"/>
<circle cx="505.83" cy="133.92" r="1.35"/>
<circle cx="523.67" cy="140.31" r="1.35"/>
<circle cx="488.29" cy="130.51" r="1.35"/>
<circle cx="508.76" cy="138.24" r="1.35"/>
<circle cx="507.9" cy="138.2" r="1.35"/>
<circle cx="510.58" cy="134.74" r="1.35"/>
<circle cx="488.73" cy="130.58" r="1.35"/>
<circle cx="519.39" cy="144.41" r="1.35"/>
<circle cx="492.36" cy="131.3" r="1.35"/>
<circle cx="506.17" cy="135.5" r="1.35"/>
<circle cx="495.15" cy="131.69" r="1.35"/>
<circle cx="513.54" cy="141.14" r="1.35"/>
<circle cx="493.33" cy="131.49" r="1.35"/>
<circle cx="527.44" cy="155.53" r="1.35"/>
<circle cx="497.67" cy="131.88" r="1.35"/>
<circle cx="534.21" cy="152.45" r="1.35"/>
<circle cx="511.65" cy="134.51" r="1.35"/>
<circle cx="533.38" cy="147.07" r="1.35"/>
<circle cx="532.31" cy="150.16" r="1.35"/>
<circle cx="528.4" cy="147.54" r="1.35"/>
<circle cx="526.51" cy="144.67" r="1.35"/>
<circle cx="507.82" cy="137.96" r="1.35"/>
<circle cx="528.63" cy="147.73" r="1.35"/>
<circle cx="498.69" cy="132.83" r="1.35"/>
<circle cx="513.38" cy="137.48" r="1.35"/>
<circle cx="494.03" cy="131.38" r="1.35"/>
<circle cx="523.52" cy="147.28" r="1.35"/>
<circle cx="490.01" cy="130.79" r="1.35"/>
<circle cx="525.12" cy="139.2" r="1.35"/>
<circle cx="529.07" cy="146.89" r="1.35"/>
<circle cx="517.38" cy="140.55" r="1.35"/>
<circle cx="518.73" cy="139.38" r="1.35"/>
<circle cx="508.58" cy="136.74" r="1.35"/>
<circle cx="508.86" cy="137.3" r="1.35"/>
<circle cx="509.89" cy="136.26" r="1.35"/>
<circle cx="489.15" cy="130.65" r="1.35"/>
<circle cx="511.99" cy="135.87" r="1.35"/>
<circle cx="525.41" cy="148.15" r="1.35"/>
<circle cx="510.46" cy="134.79" r="1.35"/>
<circle cx="511.19" cy="134.65" r="1.35"/>
<circle cx="494.29" cy="131.69" r="1.35"/>
<circle cx="492.49" cy="131.2" r="1.35"/>
<circle cx="513" cy="135.05" r="1.35"/>
<circle cx="519.19" cy="137.85" r="1.35"/>
<circle cx="523.94" cy="146.35" r="1.35"/>
<circle cx="513.06" cy="135.17" r="1.35"/>
<circle cx="512.69" cy="137.13" r="1.35"/>
<circle cx="534.59" cy="145.44" r="1.35"/>
<circle cx="530" cy="155.56" r="1.35"/>
<circle cx="523.87" cy="146.69" r="1.35"/>
<circle cx="497.49" cy="133.9" r="1.35"/>
<circle cx="512.1" cy="140.68" r="1.35"/>
<circle cx="532.89" cy="145.28" r="1.35"/>
<circle cx="526.63" cy="153.01" r="1.35"/>
<circle cx="491.21" cy="130.92" r="1.35"/>
<circle cx="525.05" cy="140.38" r="1.35"/>
<circle cx="531.93" cy="147.13" r="1.35"/>
<circle cx="527.97" cy="147.38" r="1.35"/>
<circle cx="512.61" cy="140.67" r="1.35"/>
<circle cx="498.21" cy="132.34" r="1.35"/>
<circle cx="512.79" cy="136.79" r="1.35"/>
<circle cx="489.8" cy="130.75" r="1.35"/>
<circle cx="495.9" cy="133.09" r="1.35"/>
<circle cx="521.3" cy="145.62" r="1.35"/>
<circle cx="496.27" cy="132.95" r="1.35"/>
<circle cx="493.64" cy="131.63" r="1.35"/>
<circle cx="519.18" cy="140" r="1.35"/>
</g>
<circle cx="518" cy="133.3" r="1.35" fill="none" stroke="#80108a" stroke-width="1.2"/>
<circle cx="525" cy="136.5" r="1.35" fill="none" stroke="#80108a" stroke-width="1.2"/>
<circle cx="534" cy="140.8" r="1.35" fill="none" stroke="#80108a" stroke-width="1.2"/>
<circle cx="505" cy="131" r="1.35" fill="none" stroke="#80108a" stroke-width="1.2"/>
<circle cx="511" cy="131.8" r="1.35" fill="none" stroke="#80108a" stroke-width="1.2"/>
<circle cx="529.5" cy="141.5" r="1.35" fill="none" stroke="#80108a" stroke-width="1.2"/>
<rect x="341.6" y="16.3" width="204.4" height="163.7" fill="none" stroke="#333" stroke-width="1"/>
<circle cx="348.9" cy="29.4" r="1.7" fill="#ff1010"/>
<text x="338.8" y="20.9" font-size="12.3" text-anchor="end" fill="#1a1a1a" stroke="#1a1a1a" stroke-width="0.14" font-weight="normal" >1</text>
<text x="338.3" y="146.3" font-size="12.3" text-anchor="end" fill="#1a1a1a" stroke="#1a1a1a" stroke-width="0.14" font-weight="normal" >0.1</text>
<text x="341.2" y="195.0" font-size="12.2" fill="#1a1a1a" stroke="#1a1a1a" stroke-width="0.14">10<tspan font-size="7.0" dy="-5.2">0</tspan></text>
<text x="389.2" y="195.0" font-size="12.2" fill="#1a1a1a" stroke="#1a1a1a" stroke-width="0.14">10<tspan font-size="7.0" dy="-5.2">1</tspan></text>
<text x="437.2" y="195.0" font-size="12.2" fill="#1a1a1a" stroke="#1a1a1a" stroke-width="0.14">10<tspan font-size="7.0" dy="-5.2">2</tspan></text>
<text x="485.2" y="195.0" font-size="12.2" fill="#1a1a1a" stroke="#1a1a1a" stroke-width="0.14">10<tspan font-size="7.0" dy="-5.2">3</tspan></text>
<text x="533.2" y="195.0" font-size="12.2" fill="#1a1a1a" stroke="#1a1a1a" stroke-width="0.14">10<tspan font-size="7.0" dy="-5.2">4</tspan></text>
<text x="306.9" y="14.7" font-size="13.8" text-anchor="start" fill="#111" stroke="#111" stroke-width="0.14" font-weight="bold" >(b)</text>
<text id="B_tb" x="443.2" y="214.3" font-size="12.6" text-anchor="middle" fill="#1a1a1a" stroke="#1a1a1a" stroke-width="0.14" font-weight="normal" textLength="105.41" lengthAdjust="spacingAndGlyphs">Integration period (s)</text>
<text id="B_tl" transform="translate(318.7,93.4) rotate(-90)" font-size="12.3" text-anchor="middle" fill="#1a1a1a" stroke="#1a1a1a" stroke-width="0.14" font-weight="normal" textLength="95.15" lengthAdjust="spacingAndGlyphs">Allan deviation <tspan font-size="10.6">(&#176;/h)</tspan></text>
<text id="B_ann" x="366.5" y="35.5" font-size="12" text-anchor="start" fill="#1a1a1a" stroke="#1a1a1a" stroke-width="0.14" font-weight="normal" textLength="57.52" lengthAdjust="spacingAndGlyphs">(1s, 0.78 <tspan font-size="10.5">&#176;/h)</tspan></text>
<text id="B_ann2" x="431" y="157.2" font-size="12" text-anchor="start" fill="#1a1a1a" stroke="#1a1a1a" stroke-width="0.14" font-weight="normal" textLength="41.01" lengthAdjust="spacingAndGlyphs">0.075 <tspan font-size="11">&#176;/h</tspan></text>
<g fill="none" stroke="#7a0c86" stroke-width="1.6">
<circle cx="67.9" cy="269.1" r="1.9"/>
<circle cx="68.73" cy="269.16" r="1.9"/>
<circle cx="69.56" cy="269.23" r="1.9"/>
<circle cx="70.39" cy="269.29" r="1.9"/>
<circle cx="71.23" cy="269.35" r="1.9"/>
<circle cx="72.06" cy="269.41" r="1.9"/>
<circle cx="72.89" cy="269.48" r="1.9"/>
<circle cx="73.72" cy="269.57" r="1.9"/>
<circle cx="74.55" cy="269.68" r="1.9"/>
<circle cx="75.38" cy="269.78" r="1.9"/>
<circle cx="76.21" cy="269.89" r="1.9"/>
<circle cx="77.04" cy="270" r="1.9"/>
<circle cx="77.88" cy="270.11" r="1.9"/>
<circle cx="78.71" cy="270.23" r="1.9"/>
<circle cx="79.54" cy="270.39" r="1.9"/>
<circle cx="80.37" cy="270.54" r="1.9"/>
<circle cx="81.2" cy="270.7" r="1.9"/>
<circle cx="84.53" cy="271.6" r="1.9"/>
<circle cx="87.85" cy="272.8" r="1.9"/>
<circle cx="91.18" cy="273.8" r="1.9"/>
<circle cx="94.5" cy="275.3" r="1.9"/>
<circle cx="97.83" cy="276.7" r="1.9"/>
<circle cx="101.15" cy="278.2" r="1.9"/>
<circle cx="104.48" cy="280.1" r="1.9"/>
<circle cx="107.8" cy="282.1" r="1.9"/>
<circle cx="111.12" cy="284" r="1.9"/>
<circle cx="114.45" cy="286.5" r="1.9"/>
<circle cx="117.78" cy="289.1" r="1.9"/>
<circle cx="126.09" cy="295.5" r="1.9"/>
<circle cx="134.4" cy="301.1" r="1.9"/>
<circle cx="142.71" cy="310.9" r="1.9"/>
<circle cx="151.03" cy="319.1" r="1.9"/>
<circle cx="159.34" cy="329.1" r="1.9"/>
<circle cx="167.65" cy="336.7" r="1.9"/>
<circle cx="175.96" cy="345.3" r="1.9"/>
<circle cx="184.28" cy="354.4" r="1.9"/>
<circle cx="192.59" cy="363.2" r="1.9"/>
<circle cx="200.9" cy="372.2" r="1.9"/>
<circle cx="209.21" cy="380.1" r="1.9"/>
<circle cx="217.53" cy="388.4" r="1.9"/>
<circle cx="225.84" cy="395.7" r="1.9"/>
<circle cx="234.15" cy="402.8" r="1.9"/>
</g>
<line x1="41.7" y1="324.5" x2="155.5" y2="324.5" stroke="#ff1a1a" stroke-width="1.8" stroke-dasharray="13 4 3 4" stroke-dashoffset="0"/>
<line x1="155.5" y1="326" x2="155.5" y2="420" stroke="#ff1a1a" stroke-width="1.8" stroke-dasharray="10.5 8.5" stroke-dashoffset="-5"/>
<circle cx="155.5" cy="324.8" r="3.2" fill="#7a0c86"/>
<rect x="41.7" y="250.3" width="211.6" height="169.7" fill="none" stroke="#444" stroke-width="1"/>
<line x1="41.7" y1="420" x2="44.7" y2="420" stroke="#333" stroke-width="0.8" />
<text x="38.2" y="424.3" font-size="12.5" text-anchor="end" fill="#1a1a1a" stroke="#1a1a1a" stroke-width="0.14" font-weight="normal" >0.2</text>
<line x1="41.7" y1="401.1" x2="43.5" y2="401.1" stroke="#333" stroke-width="0.8" />
<line x1="41.7" y1="382.2" x2="44.7" y2="382.2" stroke="#333" stroke-width="0.8" />
<text x="38.2" y="386.5" font-size="12.5" text-anchor="end" fill="#1a1a1a" stroke="#1a1a1a" stroke-width="0.14" font-weight="normal" >0.4</text>
<line x1="41.7" y1="363.3" x2="43.5" y2="363.3" stroke="#333" stroke-width="0.8" />
<line x1="41.7" y1="344.4" x2="44.7" y2="344.4" stroke="#333" stroke-width="0.8" />
<text x="38.2" y="348.7" font-size="12.5" text-anchor="end" fill="#1a1a1a" stroke="#1a1a1a" stroke-width="0.14" font-weight="normal" >0.6</text>
<line x1="41.7" y1="325.5" x2="43.5" y2="325.5" stroke="#333" stroke-width="0.8" />
<line x1="41.7" y1="306.6" x2="44.7" y2="306.6" stroke="#333" stroke-width="0.8" />
<text x="38.2" y="310.9" font-size="12.5" text-anchor="end" fill="#1a1a1a" stroke="#1a1a1a" stroke-width="0.14" font-weight="normal" >0.8</text>
<line x1="41.7" y1="287.7" x2="43.5" y2="287.7" stroke="#333" stroke-width="0.8" />
<line x1="41.7" y1="268.8" x2="44.7" y2="268.8" stroke="#333" stroke-width="0.8" />
<text x="38.2" y="273.1" font-size="12.5" text-anchor="end" fill="#1a1a1a" stroke="#1a1a1a" stroke-width="0.14" font-weight="normal" >1.0</text>
<line x1="41.7" y1="249.9" x2="43.5" y2="249.9" stroke="#333" stroke-width="0.8" />
<line x1="41.3" y1="420" x2="41.3" y2="418.2" stroke="#333" stroke-width="0.8" />
<line x1="67.9" y1="420" x2="67.9" y2="417" stroke="#333" stroke-width="0.8" />
<text x="67.9" y="434.2" font-size="12.5" text-anchor="middle" fill="#1a1a1a" stroke="#1a1a1a" stroke-width="0.14" font-weight="normal" >0</text>
<line x1="94.5" y1="420" x2="94.5" y2="418.2" stroke="#333" stroke-width="0.8" />
<line x1="121.1" y1="420" x2="121.1" y2="417" stroke="#333" stroke-width="0.8" />
<text x="121.1" y="434.2" font-size="12.5" text-anchor="middle" fill="#1a1a1a" stroke="#1a1a1a" stroke-width="0.14" font-weight="normal" >100</text>
<line x1="147.7" y1="420" x2="147.7" y2="418.2" stroke="#333" stroke-width="0.8" />
<line x1="174.3" y1="420" x2="174.3" y2="417" stroke="#333" stroke-width="0.8" />
<text x="174.3" y="434.2" font-size="12.5" text-anchor="middle" fill="#1a1a1a" stroke="#1a1a1a" stroke-width="0.14" font-weight="normal" >200</text>
<line x1="200.9" y1="420" x2="200.9" y2="418.2" stroke="#333" stroke-width="0.8" />
<line x1="227.5" y1="420" x2="227.5" y2="417" stroke="#333" stroke-width="0.8" />
<text x="227.5" y="434.2" font-size="12.5" text-anchor="middle" fill="#1a1a1a" stroke="#1a1a1a" stroke-width="0.14" font-weight="normal" >300</text>
<line x1="254.1" y1="420" x2="254.1" y2="418.2" stroke="#333" stroke-width="0.8" />
<text x="16.5" y="246" font-size="13.8" text-anchor="start" fill="#111" stroke="#111" stroke-width="0.14" font-weight="bold" >(c)</text>
<text id="C_tb" x="147.8" y="454.2" font-size="12.3" text-anchor="middle" fill="#1a1a1a" stroke="#1a1a1a" stroke-width="0.14" font-weight="normal" textLength="81.36" lengthAdjust="spacingAndGlyphs">Frequency (Hz)</text>
<text id="C_tl" transform="translate(16.8,333.3) rotate(-90)" font-size="12.5" text-anchor="middle" fill="#1a1a1a" stroke="#1a1a1a" stroke-width="0.14" font-weight="normal" textLength="79.64" lengthAdjust="spacingAndGlyphs">Nor. Amplitude</text>
<text id="C_ann" x="159.5" y="321.4" font-size="12" text-anchor="start" fill="#1a1a1a" stroke="#1a1a1a" stroke-width="0.14" font-weight="normal" textLength="76.02" lengthAdjust="spacingAndGlyphs">(167 Hz, 0.707)</text>
<polyline fill="none" stroke="#850a88" stroke-width="3.7" stroke-linejoin="round" stroke-linecap="round" points="355.5,277.3 355.85,276.49 356.19,276.08 356.54,276.45 356.89,278.02 357.23,277.76 357.58,276.59 357.92,276.57 358.27,277 358.62,276.56 358.96,277.49 359.31,276.86 359.66,276.41 360,277.49 360.35,276.64 360.69,277 361.04,276.89 361.39,276.76 361.73,277.04 362.08,276.59 362.43,276.07 362.77,275.91 363.12,276.33 363.46,276.56 363.81,276.89 364.16,276.92 364.5,277.15 364.85,276.95 365.2,276.54 365.54,276.58 365.89,275.95 366.24,276.82 366.58,277.12 366.93,277.14 367.27,276.84 367.62,276.82 367.97,277.32 368.31,276.91 368.66,277.23 369.01,277.16 369.35,276.99 369.7,277.49 370.04,276.64 370.39,276.74 370.74,276.54 371.08,276.54 371.43,277.6 371.78,277.69 372.12,276.91 372.47,277.15 372.81,277.43 373.16,277.26 373.51,277.44 373.85,276.33 374.2,276.61 374.55,277.1 374.89,277.54 375.24,276.95 375.59,276.51 375.93,276.74 376.28,276.6 376.62,276.51 376.97,277.57 377.32,276.62 377.66,276.91 378.01,277.87 378.36,277.43 378.7,277.05 379.05,276.62 379.39,277.08 379.74,277.63 380.09,277.18 380.43,277.47 380.78,276.94 381.13,277.13 381.47,276.81 381.82,277.09 382.17,277.48 382.51,276.25 382.86,276.87 383.2,277.01 383.55,276.64 383.9,276.76 384.24,277.25 384.59,277.8 384.94,277.18 385.28,277.05 385.63,276.2 385.97,277.77 386.32,276.93 386.67,276.88 387.01,276.4 387.36,276.87 387.71,276.41 388.05,276.93 388.4,277.11 388.74,276.91 389.09,277.02 389.44,276.52 389.78,277.54 390.13,276.6 390.48,276.08 390.82,276.81 391.17,276.55 391.52,276.44 391.86,276.74 392.21,277.03 392.55,276.37 392.9,276.84 393.25,277.54 393.59,277.21 393.94,276.83 394.29,276.96 394.63,276.84 394.98,276.88 395.32,277.23 395.67,276.86 396.02,275.82 396.36,276.89 396.71,276.5 397.06,277.19 397.4,276.62 397.75,276.97 398.09,277.88 398.44,276.43 398.79,276.39 399.13,276.26 399.48,275.82 399.83,276.05 400.17,277.06 400.52,276.61 400.87,276.06 401.21,276.23 401.56,277.18 401.9,276.55 402.25,276.73 402.6,277.05 402.94,277.51 403.29,277.77 403.64,277.36 403.98,276.96 404.33,276.98 404.67,277.71 405.02,277.54 405.37,276.76 405.71,277.1 406.06,277.03 406.41,276.92 406.75,276.67 407.1,276.3 407.45,276.66 407.79,276.2 408.14,277.45 408.48,277.14 408.83,276.36 409.18,277.53 409.52,277.3 409.87,276.04 410.22,277.73 410.56,277.26 410.91,277.83 411.25,276.34 411.6,277.14 411.95,277.09 412.29,276.99 412.64,276.98 412.99,277.37 413.33,276.23 413.68,276.34 414.02,276.27 414.37,276.65 414.72,276.63 415.06,277.06 415.41,277.02 415.76,276.91 416.1,276.59 416.45,276.7 416.8,277.33 417.14,277.24 417.49,276.94 417.83,276.75 418.18,277.6 418.53,276.63 418.87,277.19 419.22,277.42 419.57,276.78 419.91,277.27 420.26,276.4 420.6,277.35 420.95,276.99 421.3,276.18 421.64,277.2 421.99,276.5 422.34,277.47 422.68,276.59 423.03,276.82 423.37,277.02 423.72,276.75 424.07,277.01 424.41,276.65 424.76,277.2 425.11,276.9 425.45,276.99 425.8,275.66 426.15,277.42 426.49,276.91 426.84,276.09 427.18,276.94 427.53,277.1 427.88,277.38 428.22,276.41 428.57,277.59 428.92,276.82 429.26,277.97 429.61,276.82 429.95,277.2 430.3,276.72 430.65,276.39 430.99,277.38 431.34,277.29 431.69,277.58 432.03,277.27 432.38,276.62 432.72,276.13 433.07,276.59 433.42,276.57 433.76,276.51 434.11,277.14 434.46,277.02 434.8,276.75 435.15,276.94 435.5,276.8 435.84,276.96 436.19,277.2 436.53,277.29 436.88,276.54 437.23,276.17 437.57,277.49 437.92,276.89 438.27,277.34 438.61,276.1 438.96,276.68 439.3,276.84 439.65,276.17 440,276.59 440.34,277.14 440.69,277.29 441.04,277.52 441.38,276.41 441.73,276.16 442.07,277.02 442.42,277.21 442.77,276.86 443.11,276.19 443.46,277.12 443.81,277.12 444.15,277 444.5,276.53 444.85,276.88 445.19,277.09 445.54,276.48 445.88,275.89 446.23,276.86 446.58,276.92 446.92,276.71 447.27,277.1 447.62,276.43 447.96,276.65 448.31,276.54 448.65,276.93 449,277.38 449.35,276.55 449.69,277.58 450.04,277.34 450.39,277 450.73,276.9 451.08,277.43 451.43,276.55 451.77,276.57 452.12,276.14 452.46,276.83 452.81,277.22 453.16,276.85 453.5,276.8 453.85,276.51 454.2,276.68 454.54,275.96 454.89,277.07 455.23,276.41 455.58,276.1 455.93,276.26 456.27,276.23 456.62,276.98 456.97,277.08 457.31,275.99 457.66,277.02 458,277 458.35,276.35 458.7,275.94 459.04,276.28 459.39,276.33 459.74,276.77 460.08,276.46 460.43,275.72 460.78,276.74 461.12,275.95 461.47,277.05 461.81,276.11 462.16,276.34 462.51,276.27 462.85,276.42 463.2,277.25 463.55,277.06 463.89,276.95 464.24,276.83 464.58,276 464.93,276.47 465.28,276.46 465.62,276.27 465.97,276.95 466.32,276.39 466.66,276.41 467.01,276.27 467.35,275.82 467.7,277.02 468.05,277.36 468.39,276.84 468.74,276.33 469.09,275.56 469.43,276.86 469.78,277.34 470.13,276.93 470.47,277.22 470.82,277.47 471.16,277.32 471.51,276.62 471.86,277.29 472.2,277.17 472.55,276.14 472.9,276.65 473.24,276.19 473.59,276.79 473.93,277.1 474.28,276.37 474.63,275.93 474.97,277.44 475.32,277.03 475.67,277.52 476.01,276.27 476.36,277.34 476.7,277.8 477.05,277.77 477.4,276.78 477.74,276.99 478.09,276.81 478.44,277.33 478.78,277.35 479.13,276.92 479.48,276.27 479.82,277.22 480.17,276.67 480.51,277.17 480.86,277.01 481.21,277.62 481.55,277.4 481.9,276.69 482.25,277.05 482.59,277.68 482.94,276.65 483.28,277.09 483.63,277.43 483.98,277.46 484.32,277.13 484.67,276.3 485.02,276.33 485.36,277.01 485.71,277.07 486.06,278.04 486.4,276.51 486.75,277.41 487.09,277.24 487.44,276.14 487.79,276.53 488.13,276.97 488.48,276.67 488.83,276.82 489.17,277.1 489.52,276.52 489.86,277.1 490.21,276.6 490.56,276.64 490.9,277.12 491.25,276.62 491.6,277 491.94,277.59 492.29,276.88 492.63,276.8 492.98,277.19 493.33,276.69 493.67,277.33 494.02,276.26 494.37,277.11 494.71,276.59 495.06,276.45 495.41,277.59 495.75,276.4 496.1,277.56 496.44,277.05 496.79,277.4 497.14,276.29 497.48,277.25 497.83,277.35 498.18,276.62 498.52,276.59 498.87,277.73 499.21,276.68 499.56,276.39 499.91,276.27 500.25,276.73 500.6,276.65 500.95,276.56 501.29,277.22 501.64,276.27 501.98,276.61 502.33,277.02 502.68,275.89 503.02,276.78 503.37,277.11 503.72,275.65 504.06,275.75 504.41,275.75 504.76,275.37 505.1,276.38 505.45,275.32 505.79,276.37 506.14,276.78 506.49,275.39 506.83,275.97 507.18,275.24 507.53,276.45 507.87,275.77 508.22,275.98 508.56,276.13 508.91,276.36 509.26,275.96 509.6,276.14 509.95,275.9 510.3,276.21 510.64,275.65 510.99,276.22 511.33,275.35 511.68,276.02 512.03,277.13 512.37,276.32 512.72,275.75 513.07,276.46 513.41,275.93 513.76,275.65 514.11,276.09 514.45,276.78 514.8,276.65 515.14,276.46 515.49,276.11 515.84,276.07 516.18,277.19 516.53,276.71 516.88,276.2 517.22,275.7 517.57,276.05 517.91,277.8 518.26,276.19 518.61,276.69 518.95,276.84 519.3,276.69 519.65,276.65 519.99,276.17 520.34,276.33 520.69,277.57 521.03,276.48 521.38,277.21 521.72,276.07 522.07,276.72 522.42,276.97 522.76,277.32 523.11,276.36 523.46,277.14 523.8,277.05 524.15,276.54 524.49,277.09 524.84,276.48 525.19,276.53 525.53,276.88 525.88,275.67 526.23,276.84 526.57,276.44 526.92,276.23 527.26,276.7 527.61,277.24 527.96,276.71 528.3,277.47 528.65,276.37"/>
<g fill="#850a88">
<rect x="361.73" y="274.89" width="1.4" height="1.4"/>
<rect x="479.93" y="277.13" width="1.4" height="1.4"/>
<rect x="363.41" y="275.37" width="1.4" height="1.4"/>
<rect x="406.82" y="276.85" width="1.4" height="1.4"/>
<rect x="514.35" y="275.82" width="1.4" height="1.4"/>
<rect x="460.19" y="274.97" width="1.4" height="1.4"/>
<rect x="512.34" y="274.16" width="1.4" height="1.4"/>
<rect x="460.72" y="274.9" width="1.4" height="1.4"/>
<rect x="475.38" y="275.22" width="1.4" height="1.4"/>
<rect x="458.05" y="275.62" width="1.4" height="1.4"/>
<rect x="470.29" y="275.48" width="1.4" height="1.4"/>
<rect x="434.08" y="276.21" width="1.4" height="1.4"/>
<rect x="386.19" y="275.74" width="1.4" height="1.4"/>
<rect x="361.2" y="276.54" width="1.4" height="1.4"/>
<rect x="468.34" y="273.89" width="1.4" height="1.4"/>
<rect x="418.67" y="276.97" width="1.4" height="1.4"/>
<rect x="452.13" y="274.34" width="1.4" height="1.4"/>
<rect x="399.47" y="275.86" width="1.4" height="1.4"/>
<rect x="409.94" y="277.19" width="1.4" height="1.4"/>
<rect x="429.37" y="274.72" width="1.4" height="1.4"/>
<rect x="364.26" y="274.39" width="1.4" height="1.4"/>
<rect x="453.06" y="276.39" width="1.4" height="1.4"/>
<rect x="495.11" y="276.21" width="1.4" height="1.4"/>
<rect x="454.42" y="276.85" width="1.4" height="1.4"/>
<rect x="357.25" y="275.67" width="1.4" height="1.4"/>
<rect x="421.83" y="274.22" width="1.4" height="1.4"/>
<rect x="524.62" y="274.9" width="1.4" height="1.4"/>
<rect x="437.12" y="275.75" width="1.4" height="1.4"/>
<rect x="466.4" y="276.28" width="1.4" height="1.4"/>
<rect x="391.56" y="276.3" width="1.4" height="1.4"/>
<rect x="355.63" y="276.34" width="1.4" height="1.4"/>
<rect x="473.19" y="278.02" width="1.4" height="1.4"/>
<rect x="370.06" y="278" width="1.4" height="1.4"/>
<rect x="505.36" y="275.56" width="1.4" height="1.4"/>
<rect x="479.36" y="276.32" width="1.4" height="1.4"/>
<rect x="396.75" y="276.13" width="1.4" height="1.4"/>
<rect x="363.48" y="275.56" width="1.4" height="1.4"/>
<rect x="488.82" y="275.74" width="1.4" height="1.4"/>
<rect x="481.15" y="274.27" width="1.4" height="1.4"/>
<rect x="369.39" y="275.11" width="1.4" height="1.4"/>
<rect x="434.55" y="275.03" width="1.4" height="1.4"/>
<rect x="516.24" y="275.87" width="1.4" height="1.4"/>
<rect x="478.98" y="278.76" width="1.4" height="1.4"/>
<rect x="356.77" y="277.64" width="1.4" height="1.4"/>
<rect x="496.32" y="276.17" width="1.4" height="1.4"/>
<rect x="368.6" y="275.59" width="1.4" height="1.4"/>
<rect x="383.54" y="277.7" width="1.4" height="1.4"/>
<rect x="503.88" y="275.16" width="1.4" height="1.4"/>
<rect x="418.44" y="276.23" width="1.4" height="1.4"/>
<rect x="454.35" y="274.51" width="1.4" height="1.4"/>
<rect x="379.89" y="276.76" width="1.4" height="1.4"/>
<rect x="492.86" y="275.21" width="1.4" height="1.4"/>
<rect x="463.83" y="277.08" width="1.4" height="1.4"/>
<rect x="427.17" y="274.87" width="1.4" height="1.4"/>
<rect x="518.41" y="277.21" width="1.4" height="1.4"/>
<rect x="490.66" y="275.42" width="1.4" height="1.4"/>
<rect x="365.3" y="275.86" width="1.4" height="1.4"/>
<rect x="523.44" y="275.63" width="1.4" height="1.4"/>
<rect x="412.29" y="274.4" width="1.4" height="1.4"/>
<rect x="459.7" y="277.8" width="1.4" height="1.4"/>
<rect x="458.89" y="275.65" width="1.4" height="1.4"/>
<rect x="408.23" y="274.31" width="1.4" height="1.4"/>
<rect x="420.02" y="277.11" width="1.4" height="1.4"/>
<rect x="473.38" y="274.44" width="1.4" height="1.4"/>
<rect x="494.62" y="274.83" width="1.4" height="1.4"/>
<rect x="403.86" y="276.98" width="1.4" height="1.4"/>
<rect x="427.96" y="276.2" width="1.4" height="1.4"/>
<rect x="456.38" y="276.74" width="1.4" height="1.4"/>
<rect x="362.12" y="274.29" width="1.4" height="1.4"/>
<rect x="499.07" y="276.63" width="1.4" height="1.4"/>
<rect x="453.83" y="274.04" width="1.4" height="1.4"/>
<rect x="402.22" y="277.28" width="1.4" height="1.4"/>
<rect x="473.35" y="274.68" width="1.4" height="1.4"/>
<rect x="513.02" y="275.45" width="1.4" height="1.4"/>
<rect x="450.67" y="276.28" width="1.4" height="1.4"/>
<rect x="492.87" y="276.66" width="1.4" height="1.4"/>
<rect x="516.13" y="277.51" width="1.4" height="1.4"/>
<rect x="395.32" y="275.02" width="1.4" height="1.4"/>
<rect x="435.37" y="275.22" width="1.4" height="1.4"/>
<rect x="390.57" y="276.15" width="1.4" height="1.4"/>
<rect x="491.88" y="277.83" width="1.4" height="1.4"/>
<rect x="434.4" y="277.71" width="1.4" height="1.4"/>
<rect x="488.5" y="277.14" width="1.4" height="1.4"/>
<rect x="395.12" y="274.33" width="1.4" height="1.4"/>
<rect x="508.05" y="274.38" width="1.4" height="1.4"/>
<rect x="445.16" y="274.7" width="1.4" height="1.4"/>
<rect x="387.55" y="276.39" width="1.4" height="1.4"/>
<rect x="388.1" y="276.85" width="1.4" height="1.4"/>
<rect x="417.62" y="277.61" width="1.4" height="1.4"/>
<rect x="452.53" y="274.92" width="1.4" height="1.4"/>
<rect x="380.6" y="276.89" width="1.4" height="1.4"/>
<rect x="362.52" y="277.17" width="1.4" height="1.4"/>
<rect x="373.17" y="276.18" width="1.4" height="1.4"/>
<rect x="464.36" y="276.14" width="1.4" height="1.4"/>
<rect x="458.21" y="275.35" width="1.4" height="1.4"/>
<rect x="414.52" y="276" width="1.4" height="1.4"/>
<rect x="360.61" y="276.17" width="1.4" height="1.4"/>
<rect x="526.29" y="276.96" width="1.4" height="1.4"/>
<rect x="453.01" y="275.05" width="1.4" height="1.4"/>
<rect x="400.1" y="276.39" width="1.4" height="1.4"/>
<rect x="518.69" y="275.03" width="1.4" height="1.4"/>
<rect x="487.65" y="277.27" width="1.4" height="1.4"/>
<rect x="398.78" y="273.86" width="1.4" height="1.4"/>
<rect x="361.36" y="276.39" width="1.4" height="1.4"/>
<rect x="369.29" y="276.8" width="1.4" height="1.4"/>
<rect x="363.63" y="274.31" width="1.4" height="1.4"/>
<rect x="434.15" y="275.46" width="1.4" height="1.4"/>
<rect x="518.81" y="276.37" width="1.4" height="1.4"/>
<rect x="458.36" y="275.72" width="1.4" height="1.4"/>
<rect x="423.61" y="278.04" width="1.4" height="1.4"/>
<rect x="399.33" y="277.93" width="1.4" height="1.4"/>
<rect x="452.54" y="274.32" width="1.4" height="1.4"/>
<rect x="470.76" y="274.18" width="1.4" height="1.4"/>
<rect x="422.87" y="275.64" width="1.4" height="1.4"/>
<rect x="522.02" y="276.34" width="1.4" height="1.4"/>
<rect x="526.52" y="276.24" width="1.4" height="1.4"/>
<rect x="399.1" y="276.47" width="1.4" height="1.4"/>
<rect x="415.75" y="277.97" width="1.4" height="1.4"/>
<rect x="499.76" y="274.57" width="1.4" height="1.4"/>
<rect x="362.95" y="276.55" width="1.4" height="1.4"/>
<rect x="466.77" y="274.52" width="1.4" height="1.4"/>
<rect x="525.43" y="276.71" width="1.4" height="1.4"/>
<rect x="485.52" y="276.39" width="1.4" height="1.4"/>
<rect x="517.45" y="275.63" width="1.4" height="1.4"/>
<rect x="457.21" y="275.15" width="1.4" height="1.4"/>
<rect x="486.03" y="276.89" width="1.4" height="1.4"/>
<rect x="399.3" y="276.74" width="1.4" height="1.4"/>
<rect x="376.3" y="275.6" width="1.4" height="1.4"/>
<rect x="396.09" y="276.27" width="1.4" height="1.4"/>
<rect x="379.59" y="276.13" width="1.4" height="1.4"/>
<rect x="478.99" y="276.04" width="1.4" height="1.4"/>
<rect x="388.58" y="278.43" width="1.4" height="1.4"/>
<rect x="392.99" y="276.71" width="1.4" height="1.4"/>
<rect x="516.52" y="277.35" width="1.4" height="1.4"/>
<rect x="379" y="274.64" width="1.4" height="1.4"/>
<rect x="432.24" y="278.06" width="1.4" height="1.4"/>
<rect x="500.64" y="277.06" width="1.4" height="1.4"/>
<rect x="463.6" y="275.12" width="1.4" height="1.4"/>
<rect x="497.31" y="276.25" width="1.4" height="1.4"/>
<rect x="437.49" y="275.76" width="1.4" height="1.4"/>
<rect x="393.18" y="275.8" width="1.4" height="1.4"/>
<rect x="364.62" y="275.91" width="1.4" height="1.4"/>
<rect x="379.86" y="274.96" width="1.4" height="1.4"/>
<rect x="505.57" y="275.32" width="1.4" height="1.4"/>
<rect x="381.76" y="277.22" width="1.4" height="1.4"/>
<rect x="401.74" y="276.68" width="1.4" height="1.4"/>
<rect x="383.85" y="275.44" width="1.4" height="1.4"/>
<rect x="439.82" y="275.22" width="1.4" height="1.4"/>
<rect x="374.57" y="278.16" width="1.4" height="1.4"/>
<rect x="524.25" y="278.17" width="1.4" height="1.4"/>
<rect x="470.51" y="276.85" width="1.4" height="1.4"/>
<rect x="391.36" y="275.39" width="1.4" height="1.4"/>
<rect x="399.44" y="276.31" width="1.4" height="1.4"/>
<rect x="389.71" y="274.18" width="1.4" height="1.4"/>
<rect x="527.62" y="278.51" width="1.4" height="1.4"/>
<rect x="514.98" y="276.52" width="1.4" height="1.4"/>
<rect x="509.98" y="275.95" width="1.4" height="1.4"/>
<rect x="364.75" y="276.08" width="1.4" height="1.4"/>
<rect x="524.25" y="275.36" width="1.4" height="1.4"/>
<rect x="357.58" y="276.52" width="1.4" height="1.4"/>
<rect x="379.07" y="275.34" width="1.4" height="1.4"/>
<rect x="355.13" y="276.8" width="1.4" height="1.4"/>
<rect x="386.97" y="275.14" width="1.4" height="1.4"/>
<rect x="430.16" y="276.78" width="1.4" height="1.4"/>
<rect x="453.73" y="275.53" width="1.4" height="1.4"/>
<rect x="378.71" y="276.93" width="1.4" height="1.4"/>
<rect x="478.02" y="277.73" width="1.4" height="1.4"/>
<rect x="388.86" y="276.57" width="1.4" height="1.4"/>
<rect x="460.17" y="276.14" width="1.4" height="1.4"/>
<rect x="440.59" y="276" width="1.4" height="1.4"/>
</g>
<polyline fill="none" stroke="#8b0000" stroke-width="3.2" stroke-linejoin="round" stroke-linecap="round" points="355.5,312.38 355.85,311.54 356.19,311.62 356.54,312.3 356.89,311.53 357.23,312.13 357.58,312.24 357.92,312.03 358.27,311.62 358.62,312.05 358.96,311.93 359.31,312.23 359.66,311.7 360,312.57 360.35,311.32 360.69,312 361.04,312.08 361.39,312.51 361.73,311.8 362.08,312.32 362.43,311.82 362.77,312.41 363.12,312.86 363.46,311.9 363.81,312.28 364.16,311.66 364.5,312.52 364.85,312.62 365.2,312.09 365.54,311.57 365.89,312.26 366.24,312.59 366.58,312.57 366.93,312.44 367.27,311.25 367.62,311.77 367.97,312.72 368.31,311.53 368.66,312.59 369.01,312.92 369.35,312.42 369.7,312.58 370.04,311.93 370.39,311.53 370.74,312.03 371.08,311.99 371.43,312.06 371.78,312.39 372.12,312.01 372.47,312.16 372.81,312.27 373.16,312.08 373.51,312.91 373.85,312.28 374.2,312.12 374.55,311.98 374.89,311.8 375.24,312.68 375.59,312.15 375.93,311.59 376.28,311.82 376.62,312.02 376.97,311.88 377.32,312.57 377.66,311.56 378.01,312.3 378.36,312.14 378.7,311.55 379.05,312.1 379.39,312.04 379.74,312.3 380.09,311.88 380.43,312.21 380.78,311.33 381.13,311.59 381.47,312.43 381.82,312.55 382.17,312.07 382.51,311.81 382.86,312.56 383.2,311.14 383.55,311.72 383.9,312.38 384.24,312.37 384.59,311.61 384.94,311.23 385.28,312.73 385.63,312.15 385.97,311.67 386.32,312.1 386.67,312.48 387.01,310.91 387.36,312.58 387.71,312.41 388.05,311.14 388.4,312.42 388.74,311.28 389.09,312.59 389.44,312.26 389.78,313.09 390.13,311.8 390.48,312.08 390.82,312.55 391.17,311.79 391.52,311.76 391.86,311.91 392.21,312.05 392.55,311.59 392.9,312.3 393.25,312.32 393.59,312.11 393.94,312.84 394.29,311.93 394.63,312.67 394.98,311.83 395.32,312.42 395.67,311.21 396.02,312.17 396.36,312 396.71,311.86 397.06,311.8 397.4,311.92 397.75,311.75 398.09,311.09 398.44,311.81 398.79,311.83 399.13,311.84 399.48,311.6 399.83,312.02 400.17,312.43 400.52,311.97 400.87,311.86 401.21,312.69 401.56,312.52 401.9,312.49 402.25,312.6 402.6,311.93 402.94,312.02 403.29,312.58 403.64,311.83 403.98,312.02 404.33,312.25 404.67,312.25 405.02,311.95 405.37,312.52 405.71,312 406.06,312.4 406.41,312.56 406.75,312.37 407.1,312.41 407.45,311.56 407.79,311.49 408.14,311.8 408.48,312.29 408.83,312.75 409.18,311.53 409.52,312.22 409.87,311.69 410.22,311.75 410.56,311.95 410.91,312.39 411.25,312.17 411.6,312.61 411.95,311.63 412.29,312.48 412.64,312.5 412.99,312.11 413.33,312.29 413.68,311.82 414.02,311.59 414.37,311.9 414.72,311.79 415.06,313.38 415.41,311.86 415.76,312.82 416.1,312.17 416.45,312.22 416.8,312.41 417.14,311.73 417.49,312.49 417.83,312.25 418.18,311.4 418.53,312.35 418.87,312.33 419.22,312.28 419.57,312.79 419.91,311.89 420.26,312.31 420.6,312.41 420.95,311.67 421.3,312.62 421.64,311.43 421.99,311.49 422.34,312.31 422.68,311.59 423.03,312.03 423.37,311.34 423.72,312.11 424.07,311.57 424.41,312.23 424.76,311.39 425.11,312.28 425.45,311.96 425.8,312.11 426.15,312.05 426.49,312.14 426.84,311.48 427.18,310.92 427.53,312.09 427.88,311.66 428.22,311.87 428.57,312.27 428.92,311.18 429.26,311.73 429.61,311.8 429.95,311.6 430.3,312.22 430.65,312.01 430.99,311.71 431.34,311.63 431.69,312.44 432.03,311.78 432.38,312.34 432.72,312.28 433.07,311.23 433.42,311.59 433.76,312.08 434.11,312.23 434.46,312.43 434.8,312.44 435.15,312.54 435.5,311.91 435.84,311.98 436.19,312.43 436.53,311.89 436.88,312.55 437.23,311.36 437.57,312.37 437.92,312 438.27,311.19 438.61,312.52 438.96,312.22 439.3,312.09 439.65,311.59 440,311.87 440.34,312.76 440.69,311.71 441.04,310.52 441.38,311.69 441.73,311.54 442.07,312.02 442.42,311.9 442.77,311.67 443.11,311.7 443.46,312.55 443.81,311.43 444.15,312.96 444.5,311.83 444.85,311.59 445.19,312.43 445.54,312.33 445.88,311.61 446.23,312.41 446.58,311.25 446.92,311.66 447.27,312.58 447.62,311.96 447.96,311.49 448.31,312.31 448.65,312.49 449,312.07 449.35,311.26 449.69,311.92 450.04,312.27 450.39,312.42 450.73,312.91 451.08,311.96 451.43,311.86 451.77,312.06 452.12,312.62 452.46,311.65 452.81,312.67 453.16,310.84 453.5,312.44 453.85,311.77 454.2,312.28 454.54,312.39 454.89,311.55 455.23,312.04 455.58,312.19 455.93,312.34 456.27,311.66 456.62,311.63 456.97,311.21 457.31,313.22 457.66,311.99 458,311.98 458.35,311.41 458.7,312.5 459.04,311.84 459.39,312.72 459.74,312.46 460.08,312.09 460.43,312.4 460.78,311.58 461.12,311.93 461.47,311.82 461.81,311.51 462.16,312.09 462.51,312.01 462.85,312.72 463.2,310.57 463.55,311.78 463.89,311.66 464.24,311.87 464.58,312.27 464.93,312.26 465.28,312.09 465.62,311.86 465.97,312.3 466.32,312.24 466.66,311.25 467.01,311.96 467.35,311.46 467.7,311.55 468.05,312.14 468.39,312.1 468.74,312.13 469.09,311.68 469.43,311.99 469.78,311.67 470.13,312.25 470.47,312.39 470.82,312.87 471.16,312.65 471.51,311.72 471.86,311.87 472.2,311.66 472.55,312.22 472.9,312.97 473.24,312.4 473.59,311.09 473.93,311.51 474.28,311.5 474.63,312.31 474.97,312.08 475.32,312.21 475.67,312.88 476.01,311.71 476.36,311.7 476.7,312.96 477.05,312.23 477.4,311.73 477.74,311.16 478.09,311.39 478.44,310.98 478.78,312.11 479.13,312.1 479.48,312.52 479.82,312.01 480.17,311.77 480.51,311.74 480.86,312.93 481.21,311.28 481.55,312.15 481.9,312.09 482.25,312.35 482.59,311.89 482.94,312.3 483.28,312.44 483.63,312.01 483.98,311.87 484.32,311.99 484.67,311.64 485.02,311.98 485.36,311.93 485.71,312.16 486.06,312.67 486.4,312.66 486.75,311.86 487.09,312.33 487.44,312.19 487.79,312.4 488.13,312.07 488.48,312.17 488.83,311.84 489.17,311.69 489.52,312.43 489.86,312.62 490.21,312.33 490.56,312.22 490.9,312.14 491.25,311.81 491.6,311.21 491.94,312.3 492.29,312.08 492.63,311.74 492.98,311.54 493.33,312.54 493.67,311.14 494.02,312.74 494.37,312.22 494.71,312.98 495.06,311.58 495.41,311.88 495.75,311.64 496.1,311.93 496.44,311.74 496.79,311.48 497.14,312.29 497.48,311.43 497.83,311.54 498.18,311.99 498.52,311.48 498.87,311.5 499.21,311.84 499.56,311.49 499.91,311.07 500.25,311.56 500.6,311.49 500.95,312.33 501.29,311.05 501.64,311.96 501.98,311.14 502.33,311.32 502.68,311.31 503.02,311.56 503.37,311.8 503.72,312.18 504.06,311.09 504.41,311.96 504.76,311.79 505.1,311.7 505.45,310.98 505.79,311.71 506.14,311.25 506.49,311.45 506.83,311.16 507.18,311.58 507.53,311.78 507.87,311.79 508.22,311.19 508.56,311.73 508.91,311.94 509.26,310.87 509.6,311.96 509.95,310.71 510.3,311.56 510.64,311.6 510.99,312.01 511.33,311.49 511.68,311.16 512.03,311.04 512.37,310.85 512.72,311.78 513.07,311.35 513.41,311.15 513.76,311.74 514.11,311.18 514.45,311.35 514.8,311.36 515.14,312.33 515.49,312.27 515.84,311.56 516.18,310.95 516.53,311.8 516.88,311.73 517.22,311.88 517.57,312 517.91,311.62 518.26,312.2 518.61,312.18 518.95,311.92 519.3,311.66 519.65,311.64 519.99,312.18 520.34,311.39 520.69,311.83 521.03,311.58 521.38,311.3 521.72,312.21 522.07,311.94 522.42,311.98 522.76,312.37 523.11,311.31 523.46,311.96 523.8,312.13 524.15,312.38 524.49,311.53 524.84,312.34 525.19,312.13 525.53,312.64 525.88,312.55 526.23,312.29 526.57,313.01 526.92,312.05 527.26,311.86 527.61,311.9 527.96,311.64 528.3,312.05 528.65,311.22"/>
<g fill="#8b0000">
<rect x="403.48" y="313.42" width="1.4" height="1.4"/>
<rect x="428.21" y="312.67" width="1.4" height="1.4"/>
<rect x="515.87" y="310.39" width="1.4" height="1.4"/>
<rect x="498.51" y="309.45" width="1.4" height="1.4"/>
<rect x="463.56" y="311.06" width="1.4" height="1.4"/>
<rect x="475.7" y="311.48" width="1.4" height="1.4"/>
<rect x="428.97" y="309.09" width="1.4" height="1.4"/>
<rect x="376.9" y="311.21" width="1.4" height="1.4"/>
<rect x="486.73" y="312.86" width="1.4" height="1.4"/>
<rect x="494.31" y="311.63" width="1.4" height="1.4"/>
<rect x="400.03" y="308.85" width="1.4" height="1.4"/>
<rect x="465.19" y="310.62" width="1.4" height="1.4"/>
<rect x="448.98" y="311.38" width="1.4" height="1.4"/>
<rect x="416.76" y="311.73" width="1.4" height="1.4"/>
<rect x="426.08" y="311.64" width="1.4" height="1.4"/>
<rect x="378.44" y="312.2" width="1.4" height="1.4"/>
<rect x="477.21" y="311.02" width="1.4" height="1.4"/>
<rect x="396.65" y="310.73" width="1.4" height="1.4"/>
<rect x="444.04" y="309.17" width="1.4" height="1.4"/>
<rect x="415.66" y="312.17" width="1.4" height="1.4"/>
<rect x="406.64" y="311.79" width="1.4" height="1.4"/>
<rect x="452.33" y="311.01" width="1.4" height="1.4"/>
<rect x="412.56" y="311.88" width="1.4" height="1.4"/>
<rect x="486.48" y="310.21" width="1.4" height="1.4"/>
<rect x="384.1" y="310.7" width="1.4" height="1.4"/>
<rect x="434.65" y="310.21" width="1.4" height="1.4"/>
<rect x="487.46" y="311.6" width="1.4" height="1.4"/>
<rect x="404.9" y="310.95" width="1.4" height="1.4"/>
<rect x="417.22" y="311.47" width="1.4" height="1.4"/>
<rect x="403.43" y="311.72" width="1.4" height="1.4"/>
<rect x="388.93" y="311.05" width="1.4" height="1.4"/>
<rect x="374.36" y="310.34" width="1.4" height="1.4"/>
<rect x="410.98" y="310.45" width="1.4" height="1.4"/>
<rect x="383.91" y="311.56" width="1.4" height="1.4"/>
<rect x="367.24" y="314.48" width="1.4" height="1.4"/>
<rect x="484.74" y="311.58" width="1.4" height="1.4"/>
<rect x="369.34" y="310.8" width="1.4" height="1.4"/>
<rect x="452.4" y="308.64" width="1.4" height="1.4"/>
<rect x="373.64" y="310.31" width="1.4" height="1.4"/>
<rect x="387.67" y="311.45" width="1.4" height="1.4"/>
<rect x="448.83" y="313.62" width="1.4" height="1.4"/>
<rect x="466.4" y="311.49" width="1.4" height="1.4"/>
<rect x="463.49" y="312.71" width="1.4" height="1.4"/>
<rect x="398.33" y="310.8" width="1.4" height="1.4"/>
<rect x="397.39" y="311.53" width="1.4" height="1.4"/>
<rect x="488.89" y="311.52" width="1.4" height="1.4"/>
<rect x="500.17" y="310.69" width="1.4" height="1.4"/>
<rect x="465.29" y="311.99" width="1.4" height="1.4"/>
<rect x="501.24" y="311.34" width="1.4" height="1.4"/>
<rect x="490.66" y="311.04" width="1.4" height="1.4"/>
<rect x="498.58" y="310.93" width="1.4" height="1.4"/>
<rect x="386.75" y="310.49" width="1.4" height="1.4"/>
<rect x="497.71" y="310.62" width="1.4" height="1.4"/>
<rect x="450.23" y="312.24" width="1.4" height="1.4"/>
<rect x="418.74" y="311.74" width="1.4" height="1.4"/>
<rect x="361.94" y="310.73" width="1.4" height="1.4"/>
<rect x="452.95" y="310.1" width="1.4" height="1.4"/>
<rect x="476.97" y="310.04" width="1.4" height="1.4"/>
<rect x="511.53" y="311.81" width="1.4" height="1.4"/>
<rect x="441.29" y="310.98" width="1.4" height="1.4"/>
<rect x="382.07" y="310.97" width="1.4" height="1.4"/>
<rect x="368.69" y="312.63" width="1.4" height="1.4"/>
<rect x="473.92" y="311.94" width="1.4" height="1.4"/>
<rect x="522.72" y="312.22" width="1.4" height="1.4"/>
<rect x="370.32" y="312.42" width="1.4" height="1.4"/>
<rect x="387.84" y="311.65" width="1.4" height="1.4"/>
<rect x="479.98" y="313.29" width="1.4" height="1.4"/>
<rect x="502.9" y="310.74" width="1.4" height="1.4"/>
<rect x="491.06" y="310.58" width="1.4" height="1.4"/>
<rect x="469.36" y="311.75" width="1.4" height="1.4"/>
<rect x="443.91" y="310.58" width="1.4" height="1.4"/>
<rect x="430.76" y="311.81" width="1.4" height="1.4"/>
<rect x="470.14" y="312.37" width="1.4" height="1.4"/>
<rect x="383.28" y="309.46" width="1.4" height="1.4"/>
<rect x="406.01" y="310.17" width="1.4" height="1.4"/>
<rect x="415.07" y="311.83" width="1.4" height="1.4"/>
<rect x="388.64" y="312.14" width="1.4" height="1.4"/>
<rect x="434.53" y="311.83" width="1.4" height="1.4"/>
<rect x="522.98" y="312.98" width="1.4" height="1.4"/>
<rect x="523.51" y="310.22" width="1.4" height="1.4"/>
<rect x="521.34" y="309.92" width="1.4" height="1.4"/>
<rect x="365.19" y="310.13" width="1.4" height="1.4"/>
<rect x="471.93" y="310.73" width="1.4" height="1.4"/>
<rect x="453.69" y="310.85" width="1.4" height="1.4"/>
<rect x="519.78" y="309.76" width="1.4" height="1.4"/>
<rect x="406.63" y="311.55" width="1.4" height="1.4"/>
<rect x="414.26" y="311.56" width="1.4" height="1.4"/>
<rect x="387.5" y="311.22" width="1.4" height="1.4"/>
<rect x="472.31" y="310.98" width="1.4" height="1.4"/>
<rect x="469.16" y="311.51" width="1.4" height="1.4"/>
<rect x="419.21" y="310.47" width="1.4" height="1.4"/>
<rect x="446.57" y="310.87" width="1.4" height="1.4"/>
<rect x="452.6" y="310.99" width="1.4" height="1.4"/>
<rect x="386.05" y="311.68" width="1.4" height="1.4"/>
<rect x="508.9" y="310.13" width="1.4" height="1.4"/>
<rect x="504.09" y="310.5" width="1.4" height="1.4"/>
<rect x="398.69" y="312.4" width="1.4" height="1.4"/>
<rect x="398.35" y="312.07" width="1.4" height="1.4"/>
<rect x="439.52" y="310.7" width="1.4" height="1.4"/>
<rect x="453.96" y="311.14" width="1.4" height="1.4"/>
<rect x="374.37" y="310.05" width="1.4" height="1.4"/>
<rect x="368.69" y="311.27" width="1.4" height="1.4"/>
<rect x="425.45" y="312.34" width="1.4" height="1.4"/>
<rect x="504.31" y="311.12" width="1.4" height="1.4"/>
<rect x="450.13" y="311.01" width="1.4" height="1.4"/>
<rect x="374.65" y="309.74" width="1.4" height="1.4"/>
<rect x="526.33" y="311.27" width="1.4" height="1.4"/>
<rect x="498.55" y="310.52" width="1.4" height="1.4"/>
<rect x="422.67" y="312.58" width="1.4" height="1.4"/>
<rect x="452.29" y="313.61" width="1.4" height="1.4"/>
<rect x="488.99" y="312.47" width="1.4" height="1.4"/>
<rect x="364.77" y="312.69" width="1.4" height="1.4"/>
<rect x="395.82" y="311.26" width="1.4" height="1.4"/>
<rect x="457.7" y="311.5" width="1.4" height="1.4"/>
<rect x="391.7" y="310.89" width="1.4" height="1.4"/>
<rect x="428.56" y="312.87" width="1.4" height="1.4"/>
<rect x="508.67" y="309.13" width="1.4" height="1.4"/>
<rect x="452.28" y="309.98" width="1.4" height="1.4"/>
<rect x="513.67" y="311.25" width="1.4" height="1.4"/>
<rect x="483.87" y="310.93" width="1.4" height="1.4"/>
<rect x="413.91" y="311.51" width="1.4" height="1.4"/>
<rect x="497.76" y="309.52" width="1.4" height="1.4"/>
<rect x="376.05" y="310.24" width="1.4" height="1.4"/>
<rect x="518.95" y="312.33" width="1.4" height="1.4"/>
<rect x="479.78" y="312.69" width="1.4" height="1.4"/>
<rect x="372.05" y="311.75" width="1.4" height="1.4"/>
<rect x="449.83" y="311.54" width="1.4" height="1.4"/>
<rect x="515.03" y="310.46" width="1.4" height="1.4"/>
<rect x="471.71" y="311.36" width="1.4" height="1.4"/>
<rect x="432.16" y="312.03" width="1.4" height="1.4"/>
<rect x="499.93" y="310.46" width="1.4" height="1.4"/>
<rect x="358.43" y="311.14" width="1.4" height="1.4"/>
<rect x="373.92" y="311.58" width="1.4" height="1.4"/>
<rect x="450.77" y="310.77" width="1.4" height="1.4"/>
<rect x="405.02" y="311" width="1.4" height="1.4"/>
<rect x="379.78" y="310.47" width="1.4" height="1.4"/>
<rect x="506.38" y="309.1" width="1.4" height="1.4"/>
<rect x="494.74" y="310.82" width="1.4" height="1.4"/>
<rect x="519.08" y="312.07" width="1.4" height="1.4"/>
<rect x="380.93" y="311.46" width="1.4" height="1.4"/>
<rect x="441.68" y="312.63" width="1.4" height="1.4"/>
<rect x="360.94" y="310.09" width="1.4" height="1.4"/>
<rect x="386.36" y="312.01" width="1.4" height="1.4"/>
<rect x="422.77" y="310.01" width="1.4" height="1.4"/>
<rect x="437.18" y="312.43" width="1.4" height="1.4"/>
<rect x="422.92" y="313" width="1.4" height="1.4"/>
<rect x="505.96" y="310.28" width="1.4" height="1.4"/>
<rect x="411.81" y="311.12" width="1.4" height="1.4"/>
<rect x="392.25" y="312.43" width="1.4" height="1.4"/>
<rect x="362.36" y="310.55" width="1.4" height="1.4"/>
<rect x="384.19" y="310.66" width="1.4" height="1.4"/>
<rect x="454.71" y="312.24" width="1.4" height="1.4"/>
<rect x="421.96" y="311.31" width="1.4" height="1.4"/>
<rect x="455.08" y="311.46" width="1.4" height="1.4"/>
<rect x="412.59" y="312.48" width="1.4" height="1.4"/>
<rect x="525.59" y="311.49" width="1.4" height="1.4"/>
<rect x="362.66" y="312.29" width="1.4" height="1.4"/>
<rect x="402.01" y="312.56" width="1.4" height="1.4"/>
<rect x="402.13" y="310.6" width="1.4" height="1.4"/>
<rect x="453.32" y="311.38" width="1.4" height="1.4"/>
<rect x="446.25" y="314.38" width="1.4" height="1.4"/>
<rect x="360.71" y="310.55" width="1.4" height="1.4"/>
<rect x="451.87" y="311.64" width="1.4" height="1.4"/>
<rect x="488.87" y="309.33" width="1.4" height="1.4"/>
<rect x="464.42" y="310.75" width="1.4" height="1.4"/>
<rect x="403.56" y="310.67" width="1.4" height="1.4"/>
<rect x="492.51" y="312.92" width="1.4" height="1.4"/>
<rect x="472.77" y="309.68" width="1.4" height="1.4"/>
<rect x="407.44" y="311.52" width="1.4" height="1.4"/>
<rect x="442.92" y="309.74" width="1.4" height="1.4"/>
</g>
<polyline fill="none" stroke="#008a00" stroke-width="3.4" stroke-linejoin="round" stroke-linecap="round" points="355.5,372.74 355.85,372.7 356.19,372.58 356.54,372.87 356.89,373.39 357.23,373.16 357.58,372.42 357.92,374.22 358.27,372.59 358.62,373.06 358.96,373.03 359.31,373.34 359.66,372.87 360,373.21 360.35,373.92 360.69,373.05 361.04,372.55 361.39,373.16 361.73,372.67 362.08,372.85 362.43,373.09 362.77,373.16 363.12,372.89 363.46,373.38 363.81,372.93 364.16,372.45 364.5,373.39 364.85,372.86 365.2,373.54 365.54,372.73 365.89,373.26 366.24,373.15 366.58,371.85 366.93,372.37 367.27,372.53 367.62,373.62 367.97,372.2 368.31,373.41 368.66,373.49 369.01,373.23 369.35,373.3 369.7,372.8 370.04,373.01 370.39,373.11 370.74,373.19 371.08,373.32 371.43,372.92 371.78,372.71 372.12,372.77 372.47,373.19 372.81,372.3 373.16,372.47 373.51,372.84 373.85,372.77 374.2,372.9 374.55,371.86 374.89,372.87 375.24,372.9 375.59,373.35 375.93,372.16 376.28,372.88 376.62,373.22 376.97,373.22 377.32,373.53 377.66,373.47 378.01,372.56 378.36,373.29 378.7,372.87 379.05,372.67 379.39,373.68 379.74,372.74 380.09,372.64 380.43,372.84 380.78,372.64 381.13,373.45 381.47,373.18 381.82,373.62 382.17,373.19 382.51,372.75 382.86,373.47 383.2,372.73 383.55,372.81 383.9,372.94 384.24,373.03 384.59,373.53 384.94,372.75 385.28,373.16 385.63,373 385.97,372.47 386.32,372.54 386.67,372.92 387.01,373.19 387.36,373.15 387.71,373.22 388.05,373.03 388.4,372.81 388.74,373.19 389.09,372.57 389.44,372.42 389.78,372.86 390.13,372.38 390.48,372.78 390.82,372.68 391.17,372.76 391.52,372.98 391.86,372.65 392.21,372.81 392.55,372.25 392.9,373.05 393.25,372.6 393.59,373.16 393.94,371.75 394.29,372.63 394.63,373.08 394.98,371.91 395.32,372.8 395.67,373 396.02,372.99 396.36,372.29 396.71,373.04 397.06,372.99 397.4,372.5 397.75,373.24 398.09,372.88 398.44,372.9 398.79,372.69 399.13,373.11 399.48,372.91 399.83,373.35 400.17,373.04 400.52,372.56 400.87,372.72 401.21,373.2 401.56,372.63 401.9,372.94 402.25,372.99 402.6,372.67 402.94,371.72 403.29,372.78 403.64,372.8 403.98,372.75 404.33,372.35 404.67,373.19 405.02,372.59 405.37,372.37 405.71,372.31 406.06,372.77 406.41,372.12 406.75,372.15 407.1,373.45 407.45,373.14 407.79,373.01 408.14,373.14 408.48,372.8 408.83,371.8 409.18,373.05 409.52,373.06 409.87,372.73 410.22,371.66 410.56,373.05 410.91,373.11 411.25,372.3 411.6,372.57 411.95,372.86 412.29,372.48 412.64,373.01 412.99,372.57 413.33,372.84 413.68,372.58 414.02,371.91 414.37,372.13 414.72,373.96 415.06,372.71 415.41,373.17 415.76,373.11 416.1,373.37 416.45,372.88 416.8,372.39 417.14,372.67 417.49,371.84 417.83,372.61 418.18,373.1 418.53,371.78 418.87,372.82 419.22,373.11 419.57,373.34 419.91,372.37 420.26,372.51 420.6,371.99 420.95,372.37 421.3,373.06 421.64,373.74 421.99,372.35 422.34,373.47 422.68,373.06 423.03,372.67 423.37,373.85 423.72,371.8 424.07,372.88 424.41,373.02 424.76,373.86 425.11,373.72 425.45,373.93 425.8,373.01 426.15,373.38 426.49,373.56 426.84,373.19 427.18,373.13 427.53,372.89 427.88,372.8 428.22,372.44 428.57,373.84 428.92,372.79 429.26,372.08 429.61,373.11 429.95,372.98 430.3,373.07 430.65,373.79 430.99,372.95 431.34,372.89 431.69,372.68 432.03,373 432.38,372.81 432.72,373.1 433.07,374.37 433.42,373.18 433.76,372.63 434.11,373.85 434.46,373.39 434.8,373.37 435.15,373.32 435.5,373.37 435.84,373.31 436.19,373.63 436.53,373.45 436.88,373.6 437.23,372.79 437.57,373.01 437.92,372.69 438.27,373.43 438.61,373.38 438.96,372.81 439.3,373.27 439.65,374.16 440,373.55 440.34,372.52 440.69,372.97 441.04,373.29 441.38,373 441.73,373.18 442.07,373.53 442.42,373.16 442.77,372.53 443.11,373.33 443.46,372.97 443.81,373.06 444.15,372.77 444.5,372.41 444.85,372.47 445.19,372.86 445.54,372.54 445.88,371.82 446.23,373.52 446.58,372.5 446.92,372.7 447.27,373.25 447.62,371.96 447.96,373.6 448.31,372.68 448.65,373.3 449,372.8 449.35,373.15 449.69,373.06 450.04,373.01 450.39,372.21 450.73,372.37 451.08,373 451.43,373.63 451.77,372.77 452.12,373.25 452.46,373.08 452.81,373.23 453.16,373.45 453.5,372.36 453.85,373.13 454.2,372.94 454.54,372.88 454.89,372.64 455.23,372.67 455.58,372.56 455.93,372.53 456.27,374.11 456.62,373.76 456.97,373.02 457.31,373.34 457.66,372.59 458,371.79 458.35,372.21 458.7,373.08 459.04,373.64 459.39,372.99 459.74,372.57 460.08,372.91 460.43,372.58 460.78,372.4 461.12,372.91 461.47,372.84 461.81,372.66 462.16,372.62 462.51,372.61 462.85,373.12 463.2,373.62 463.55,372.92 463.89,373.99 464.24,372.3 464.58,373.13 464.93,372.51 465.28,372.94 465.62,373.06 465.97,373.26 466.32,373.51 466.66,372.77 467.01,372.47 467.35,372.93 467.7,373.14 468.05,372.71 468.39,373.41 468.74,373.75 469.09,372.39 469.43,373.17 469.78,373.46 470.13,372.17 470.47,373.1 470.82,372.91 471.16,372.39 471.51,373.59 471.86,373.11 472.2,372.8 472.55,373.21 472.9,373.3 473.24,373.35 473.59,373.27 473.93,373.19 474.28,372.5 474.63,372.83 474.97,373.07 475.32,371.8 475.67,373.95 476.01,372.85 476.36,372.55 476.7,372.22 477.05,373.12 477.4,373.03 477.74,372.76 478.09,372.83 478.44,372.62 478.78,372.68 479.13,372.97 479.48,372.73 479.82,373.31 480.17,372.95 480.51,373.07 480.86,373.19 481.21,373.57 481.55,373.28 481.9,373.11 482.25,372.94 482.59,372.66 482.94,372.86 483.28,373.31 483.63,373.11 483.98,372.84 484.32,372.43 484.67,372.34 485.02,373.15 485.36,373.46 485.71,373.18 486.06,372.41 486.4,372.92 486.75,373.11 487.09,372.61 487.44,373.17 487.79,372.93 488.13,372.65 488.48,372.47 488.83,373.37 489.17,373.17 489.52,372.62 489.86,372.57 490.21,373.4 490.56,373.27 490.9,372.88 491.25,373.71 491.6,372.89 491.94,372.55 492.29,373.49 492.63,372.93 492.98,373.16 493.33,373.03 493.67,372.57 494.02,372.49 494.37,372.93 494.71,373.63 495.06,372.57 495.41,373.61 495.75,373.11 496.1,372.53 496.44,373.13 496.79,373.26 497.14,372.62 497.48,372.08 497.83,373.17 498.18,372.53 498.52,373.21 498.87,372.18 499.21,372.95 499.56,372.66 499.91,372.36 500.25,372.91 500.6,373.09 500.95,372.77 501.29,372.5 501.64,373.11 501.98,372.25 502.33,373.25 502.68,373.23 503.02,373.75 503.37,373.4 503.72,373.17 504.06,373.13 504.41,373.03 504.76,372.43 505.1,373.65 505.45,373.24 505.79,372.89 506.14,372.51 506.49,373.66 506.83,373.25 507.18,372.49 507.53,373.31 507.87,373.84 508.22,373 508.56,373.19 508.91,372.83 509.26,372.74 509.6,373.48 509.95,374.36 510.3,373.06 510.64,372.96 510.99,373.36 511.33,372.88 511.68,373.33 512.03,373.38 512.37,372.57 512.72,372.54 513.07,372.98 513.41,373.38 513.76,373.13 514.11,373.56 514.45,372.41 514.8,373.23 515.14,372.74 515.49,373.06 515.84,373.15 516.18,372.59 516.53,372.91 516.88,372.5 517.22,373.13 517.57,372.64 517.91,372.8 518.26,373.11 518.61,372.73 518.95,373.51 519.3,372.73 519.65,373.38 519.99,373.14 520.34,372.56 520.69,372.92 521.03,372.65 521.38,372.86 521.72,372.89 522.07,373.81 522.42,372.83 522.76,373.7 523.11,373.21 523.46,372.44 523.8,372 524.15,373.31 524.49,372.14 524.84,373.33 525.19,373.46 525.53,373.18 525.88,372.92 526.23,372.9 526.57,373.13 526.92,372.88 527.26,372.78 527.61,372.85 527.96,373.52 528.3,372.74 528.65,373.18"/>
<g fill="#008a00">
<rect x="471.48" y="371.2" width="1.4" height="1.4"/>
<rect x="471.67" y="372.12" width="1.4" height="1.4"/>
<rect x="499.95" y="372.97" width="1.4" height="1.4"/>
<rect x="380.04" y="372.91" width="1.4" height="1.4"/>
<rect x="372.26" y="371.98" width="1.4" height="1.4"/>
<rect x="371.29" y="372.84" width="1.4" height="1.4"/>
<rect x="426.6" y="369.87" width="1.4" height="1.4"/>
<rect x="468.89" y="372.21" width="1.4" height="1.4"/>
<rect x="473.57" y="374.48" width="1.4" height="1.4"/>
<rect x="381.61" y="373.76" width="1.4" height="1.4"/>
<rect x="362.03" y="372.85" width="1.4" height="1.4"/>
<rect x="499.58" y="372.12" width="1.4" height="1.4"/>
<rect x="455.58" y="373.01" width="1.4" height="1.4"/>
<rect x="409.99" y="371.28" width="1.4" height="1.4"/>
<rect x="512.7" y="372.1" width="1.4" height="1.4"/>
<rect x="410.97" y="372.13" width="1.4" height="1.4"/>
<rect x="493.21" y="371.83" width="1.4" height="1.4"/>
<rect x="524.5" y="372.11" width="1.4" height="1.4"/>
<rect x="420.59" y="372.29" width="1.4" height="1.4"/>
<rect x="465.75" y="372.52" width="1.4" height="1.4"/>
<rect x="371.01" y="373.55" width="1.4" height="1.4"/>
<rect x="435.22" y="372.17" width="1.4" height="1.4"/>
<rect x="472.35" y="371.26" width="1.4" height="1.4"/>
<rect x="374.6" y="372.55" width="1.4" height="1.4"/>
<rect x="514.67" y="371.86" width="1.4" height="1.4"/>
<rect x="527.28" y="373.45" width="1.4" height="1.4"/>
<rect x="405.14" y="371.46" width="1.4" height="1.4"/>
<rect x="415.05" y="371.91" width="1.4" height="1.4"/>
<rect x="515.8" y="371.14" width="1.4" height="1.4"/>
<rect x="370.9" y="370.32" width="1.4" height="1.4"/>
<rect x="458.31" y="372.5" width="1.4" height="1.4"/>
<rect x="448.43" y="372.78" width="1.4" height="1.4"/>
<rect x="401.75" y="372.34" width="1.4" height="1.4"/>
<rect x="509.43" y="372.72" width="1.4" height="1.4"/>
<rect x="514.9" y="371.72" width="1.4" height="1.4"/>
<rect x="360.41" y="370.19" width="1.4" height="1.4"/>
<rect x="414.42" y="370.37" width="1.4" height="1.4"/>
<rect x="518.32" y="372.14" width="1.4" height="1.4"/>
<rect x="412.48" y="371.57" width="1.4" height="1.4"/>
<rect x="432.65" y="372.34" width="1.4" height="1.4"/>
<rect x="385.77" y="373.96" width="1.4" height="1.4"/>
<rect x="491.19" y="372.2" width="1.4" height="1.4"/>
<rect x="451.62" y="372.68" width="1.4" height="1.4"/>
<rect x="371.37" y="370.64" width="1.4" height="1.4"/>
<rect x="457.93" y="371.75" width="1.4" height="1.4"/>
<rect x="434.69" y="373.48" width="1.4" height="1.4"/>
<rect x="371.63" y="372.57" width="1.4" height="1.4"/>
<rect x="466.8" y="373.2" width="1.4" height="1.4"/>
<rect x="415.9" y="372.91" width="1.4" height="1.4"/>
<rect x="419.68" y="371.78" width="1.4" height="1.4"/>
<rect x="384.18" y="371.8" width="1.4" height="1.4"/>
<rect x="517.83" y="371.37" width="1.4" height="1.4"/>
<rect x="506.04" y="373.99" width="1.4" height="1.4"/>
<rect x="437.95" y="372.58" width="1.4" height="1.4"/>
<rect x="507.01" y="372.67" width="1.4" height="1.4"/>
<rect x="375.07" y="371.07" width="1.4" height="1.4"/>
<rect x="375.16" y="372.34" width="1.4" height="1.4"/>
<rect x="435.8" y="372.95" width="1.4" height="1.4"/>
<rect x="442.55" y="373.38" width="1.4" height="1.4"/>
<rect x="418.33" y="372.37" width="1.4" height="1.4"/>
<rect x="390.03" y="373.26" width="1.4" height="1.4"/>
<rect x="376.81" y="372.44" width="1.4" height="1.4"/>
<rect x="441.69" y="374.33" width="1.4" height="1.4"/>
<rect x="509.01" y="374.7" width="1.4" height="1.4"/>
<rect x="439.37" y="372.54" width="1.4" height="1.4"/>
<rect x="491.77" y="370.93" width="1.4" height="1.4"/>
<rect x="394.5" y="371.61" width="1.4" height="1.4"/>
<rect x="484.67" y="372.76" width="1.4" height="1.4"/>
<rect x="360.15" y="372.96" width="1.4" height="1.4"/>
<rect x="422.89" y="371.38" width="1.4" height="1.4"/>
<rect x="508.99" y="372.22" width="1.4" height="1.4"/>
<rect x="369.4" y="371.67" width="1.4" height="1.4"/>
<rect x="457.88" y="371.97" width="1.4" height="1.4"/>
<rect x="490.55" y="372.23" width="1.4" height="1.4"/>
<rect x="397.35" y="371.86" width="1.4" height="1.4"/>
<rect x="458.55" y="372.6" width="1.4" height="1.4"/>
<rect x="461.85" y="372.28" width="1.4" height="1.4"/>
<rect x="474.59" y="372.67" width="1.4" height="1.4"/>
<rect x="495.15" y="371.47" width="1.4" height="1.4"/>
<rect x="434.76" y="372.44" width="1.4" height="1.4"/>
<rect x="517.61" y="372.24" width="1.4" height="1.4"/>
<rect x="426.13" y="371.91" width="1.4" height="1.4"/>
<rect x="397.19" y="372.45" width="1.4" height="1.4"/>
<rect x="481.85" y="372.07" width="1.4" height="1.4"/>
<rect x="414.42" y="371.37" width="1.4" height="1.4"/>
<rect x="379.11" y="372.54" width="1.4" height="1.4"/>
<rect x="412.12" y="372.5" width="1.4" height="1.4"/>
<rect x="523.79" y="374.08" width="1.4" height="1.4"/>
<rect x="437.86" y="372.28" width="1.4" height="1.4"/>
<rect x="440.91" y="372.71" width="1.4" height="1.4"/>
<rect x="484.92" y="370.17" width="1.4" height="1.4"/>
<rect x="464.99" y="372.75" width="1.4" height="1.4"/>
<rect x="501.24" y="373.64" width="1.4" height="1.4"/>
<rect x="491" y="373.64" width="1.4" height="1.4"/>
<rect x="415.26" y="372.79" width="1.4" height="1.4"/>
<rect x="382.89" y="373.77" width="1.4" height="1.4"/>
<rect x="483.89" y="371.99" width="1.4" height="1.4"/>
<rect x="378.17" y="373.43" width="1.4" height="1.4"/>
<rect x="511.46" y="370.24" width="1.4" height="1.4"/>
<rect x="483.79" y="373.2" width="1.4" height="1.4"/>
<rect x="457.02" y="370.75" width="1.4" height="1.4"/>
<rect x="430.18" y="373.1" width="1.4" height="1.4"/>
<rect x="505.58" y="370.75" width="1.4" height="1.4"/>
<rect x="406.57" y="373.07" width="1.4" height="1.4"/>
<rect x="518.59" y="372.01" width="1.4" height="1.4"/>
<rect x="374.86" y="374.04" width="1.4" height="1.4"/>
<rect x="398.43" y="371.83" width="1.4" height="1.4"/>
<rect x="499.96" y="372.39" width="1.4" height="1.4"/>
<rect x="434.09" y="372.97" width="1.4" height="1.4"/>
<rect x="395.77" y="370.06" width="1.4" height="1.4"/>
<rect x="473.46" y="372.41" width="1.4" height="1.4"/>
<rect x="477.81" y="370.95" width="1.4" height="1.4"/>
<rect x="492.22" y="373.41" width="1.4" height="1.4"/>
<rect x="473.04" y="374.06" width="1.4" height="1.4"/>
<rect x="425.14" y="371.58" width="1.4" height="1.4"/>
<rect x="369.88" y="371.22" width="1.4" height="1.4"/>
<rect x="413.6" y="370.31" width="1.4" height="1.4"/>
<rect x="457.8" y="373.23" width="1.4" height="1.4"/>
<rect x="355.58" y="370.79" width="1.4" height="1.4"/>
<rect x="439.48" y="372.79" width="1.4" height="1.4"/>
<rect x="495.47" y="372.36" width="1.4" height="1.4"/>
<rect x="427.29" y="371.4" width="1.4" height="1.4"/>
<rect x="412.88" y="371.17" width="1.4" height="1.4"/>
<rect x="391.79" y="371.12" width="1.4" height="1.4"/>
<rect x="462.03" y="373.85" width="1.4" height="1.4"/>
<rect x="405.38" y="372.59" width="1.4" height="1.4"/>
<rect x="476.21" y="372.73" width="1.4" height="1.4"/>
<rect x="431.34" y="371.34" width="1.4" height="1.4"/>
<rect x="375.7" y="370.78" width="1.4" height="1.4"/>
<rect x="473.05" y="374.11" width="1.4" height="1.4"/>
<rect x="386.68" y="372.79" width="1.4" height="1.4"/>
<rect x="401.81" y="372.97" width="1.4" height="1.4"/>
<rect x="393.62" y="372.02" width="1.4" height="1.4"/>
<rect x="508.88" y="370.68" width="1.4" height="1.4"/>
<rect x="423.08" y="370.85" width="1.4" height="1.4"/>
<rect x="441.32" y="373.46" width="1.4" height="1.4"/>
<rect x="525.97" y="371.99" width="1.4" height="1.4"/>
<rect x="387.6" y="372.6" width="1.4" height="1.4"/>
<rect x="446.08" y="371.79" width="1.4" height="1.4"/>
<rect x="354.86" y="373.4" width="1.4" height="1.4"/>
<rect x="433.51" y="374.46" width="1.4" height="1.4"/>
<rect x="494.95" y="372.31" width="1.4" height="1.4"/>
<rect x="372.27" y="373.25" width="1.4" height="1.4"/>
<rect x="450.5" y="373.09" width="1.4" height="1.4"/>
<rect x="420.02" y="371.19" width="1.4" height="1.4"/>
<rect x="515.59" y="373.48" width="1.4" height="1.4"/>
<rect x="367.94" y="371.4" width="1.4" height="1.4"/>
<rect x="462.85" y="369.95" width="1.4" height="1.4"/>
<rect x="417.45" y="372.87" width="1.4" height="1.4"/>
<rect x="469.28" y="371.66" width="1.4" height="1.4"/>
<rect x="445.22" y="371.6" width="1.4" height="1.4"/>
<rect x="471.94" y="373.29" width="1.4" height="1.4"/>
<rect x="417.78" y="371.37" width="1.4" height="1.4"/>
<rect x="523.83" y="374.09" width="1.4" height="1.4"/>
<rect x="473.15" y="372.98" width="1.4" height="1.4"/>
<rect x="451.32" y="370.73" width="1.4" height="1.4"/>
<rect x="509.1" y="372.85" width="1.4" height="1.4"/>
<rect x="481" y="372.31" width="1.4" height="1.4"/>
<rect x="411.11" y="371.55" width="1.4" height="1.4"/>
<rect x="378.52" y="374.33" width="1.4" height="1.4"/>
<rect x="379.82" y="371.7" width="1.4" height="1.4"/>
<rect x="456.53" y="372.04" width="1.4" height="1.4"/>
<rect x="422.71" y="372.05" width="1.4" height="1.4"/>
<rect x="484.21" y="371.8" width="1.4" height="1.4"/>
<rect x="486.82" y="371.68" width="1.4" height="1.4"/>
<rect x="405.22" y="370.91" width="1.4" height="1.4"/>
<rect x="524.17" y="372.03" width="1.4" height="1.4"/>
<rect x="467.14" y="372.82" width="1.4" height="1.4"/>
<rect x="420.68" y="370.72" width="1.4" height="1.4"/>
<rect x="521.55" y="371.93" width="1.4" height="1.4"/>
</g>
<polyline fill="none" stroke="#0000ff" stroke-width="3.2" stroke-linejoin="round" stroke-linecap="round" points="355.5,409.48 355.85,410.1 356.19,410.42 356.54,409.41 356.89,409.79 357.23,410.29 357.58,409.78 357.92,410.53 358.27,410.61 358.62,410.39 358.96,410.02 359.31,410.19 359.66,409.94 360,410.17 360.35,410.37 360.69,410.1 361.04,410.66 361.39,411.37 361.73,410.01 362.08,410.4 362.43,410.61 362.77,410.54 363.12,410.16 363.46,410.05 363.81,410.7 364.16,410.54 364.5,410.49 364.85,409.92 365.2,410.55 365.54,410.62 365.89,410.19 366.24,410.55 366.58,411.22 366.93,409.45 367.27,410.53 367.62,409.76 367.97,409.67 368.31,410.16 368.66,410.5 369.01,410.28 369.35,409.75 369.7,409.62 370.04,410 370.39,410.25 370.74,409.88 371.08,409.58 371.43,410.99 371.78,409.86 372.12,410.15 372.47,409.97 372.81,409.95 373.16,410.22 373.51,410.06 373.85,410.46 374.2,409.67 374.55,409.53 374.89,411.02 375.24,410.13 375.59,410.49 375.93,410.66 376.28,410.38 376.62,410.15 376.97,409.45 377.32,409.43 377.66,410.54 378.01,410.41 378.36,410.35 378.7,409.38 379.05,409.17 379.39,409.63 379.74,409.57 380.09,410.15 380.43,409.63 380.78,410.76 381.13,409.79 381.47,409.81 381.82,410.43 382.17,410.19 382.51,409.65 382.86,410.4 383.2,410.87 383.55,409.5 383.9,409.92 384.24,409.55 384.59,409.17 384.94,410.29 385.28,410.32 385.63,410.44 385.97,410.2 386.32,409.13 386.67,409.99 387.01,409.71 387.36,409.49 387.71,409.51 388.05,410.33 388.4,409.86 388.74,410.85 389.09,410.2 389.44,409.15 389.78,410.38 390.13,410.53 390.48,410 390.82,409.45 391.17,410.76 391.52,409.41 391.86,409.94 392.21,409.15 392.55,409.43 392.9,409.24 393.25,410.45 393.59,410.49 393.94,409.8 394.29,409.38 394.63,409.95 394.98,410.14 395.32,409.31 395.67,409.47 396.02,409.93 396.36,410.28 396.71,410.01 397.06,410.17 397.4,409.43 397.75,408.88 398.09,410.11 398.44,409.57 398.79,409.92 399.13,409.81 399.48,410.18 399.83,409.63 400.17,410.61 400.52,409.99 400.87,410.21 401.21,410.25 401.56,410.43 401.9,410.15 402.25,409.2 402.6,409.7 402.94,410.79 403.29,410.18 403.64,410.22 403.98,410.18 404.33,409.69 404.67,409.67 405.02,409.69 405.37,410.48 405.71,410.13 406.06,410.76 406.41,410.19 406.75,410.8 407.1,410.17 407.45,409.45 407.79,410.74 408.14,410.12 408.48,410.5 408.83,410.07 409.18,409.83 409.52,410.05 409.87,409.48 410.22,409.45 410.56,409.58 410.91,409.74 411.25,409.37 411.6,409.93 411.95,410.11 412.29,410.87 412.64,410.78 412.99,409.95 413.33,410.36 413.68,409.88 414.02,410.14 414.37,409.96 414.72,409.73 415.06,410.01 415.41,409.32 415.76,410.17 416.1,409.84 416.45,409.46 416.8,409.75 417.14,410.12 417.49,409.54 417.83,410.02 418.18,410.03 418.53,410.43 418.87,409.23 419.22,409.63 419.57,409.87 419.91,410.28 420.26,409.7 420.6,409.88 420.95,408.87 421.3,409.23 421.64,410.19 421.99,409.29 422.34,410.35 422.68,409.03 423.03,409.2 423.37,408.58 423.72,409.54 424.07,409.34 424.41,410.09 424.76,409.23 425.11,409.02 425.45,408.47 425.8,409.03 426.15,409.45 426.49,409.33 426.84,409.51 427.18,409.32 427.53,408.88 427.88,409.14 428.22,408.91 428.57,408.21 428.92,409.53 429.26,408.9 429.61,408.24 429.95,408.84 430.3,408.77 430.65,409.05 430.99,409.22 431.34,407.19 431.69,408.76 432.03,409.16 432.38,408.02 432.72,407.59 433.07,408.5 433.42,408.5 433.76,408.47 434.11,407.79 434.46,408.04 434.8,408.3 435.15,408.52 435.5,409.13 435.84,408.25 436.19,407.82 436.53,407 436.88,408.5 437.23,407.93 437.57,407.91 437.92,407.48 438.27,408.22 438.61,407.06 438.96,407.88 439.3,407.85 439.65,407.9 440,408.31 440.34,407.65 440.69,407.71 441.04,408.01 441.38,406.91 441.73,407.44 442.07,407.57 442.42,407.93 442.77,407.11 443.11,407.8 443.46,407.58 443.81,406.71 444.15,406.71 444.5,406.72 444.85,407.42 445.19,407.44 445.54,407.66 445.88,407.7 446.23,407.08 446.58,407.8 446.92,407.68 447.27,407.52 447.62,407.52 447.96,406.72 448.31,407.45 448.65,406.82 449,406.74 449.35,407.11 449.69,407.33 450.04,407.23 450.39,407.1 450.73,406.8 451.08,407.32 451.43,406.9 451.77,406.6 452.12,407.26 452.46,407.86 452.81,407.03 453.16,406.72 453.5,407.81 453.85,407.95 454.2,407.05 454.54,407.08 454.89,407.26 455.23,408.48 455.58,407.22 455.93,407.59 456.27,407.34 456.62,406.32 456.97,406.64 457.31,406.57 457.66,407.31 458,407.16 458.35,407.91 458.7,406.98 459.04,407.23 459.39,407.12 459.74,407.14 460.08,408.11 460.43,407.37 460.78,408.07 461.12,408.15 461.47,407.47 461.81,408.21 462.16,407.9 462.51,408.29 462.85,408.48 463.2,408.58 463.55,408.53 463.89,409.6 464.24,408.95 464.58,409.55 464.93,410.16 465.28,409.85 465.62,410.03 465.97,410.2 466.32,410.06 466.66,410.34 467.01,408.93 467.35,410.45 467.7,409.58 468.05,408.79 468.39,409.28 468.74,408.95 469.09,409.56 469.43,408.9 469.78,409.12 470.13,409.71 470.47,409.64 470.82,409.21 471.16,409.47 471.51,409.53 471.86,409.61 472.2,409.57 472.55,409.47 472.9,409.97 473.24,408.85 473.59,409.35 473.93,409.63 474.28,409.39 474.63,409.32 474.97,409.38 475.32,409.67 475.67,410.13 476.01,409.49 476.36,409.45 476.7,409.73 477.05,409.46 477.4,408.7 477.74,409.69 478.09,409.4 478.44,409.31 478.78,409.85 479.13,409.59 479.48,409.32 479.82,408.59 480.17,408.8 480.51,409.58 480.86,409.52 481.21,409.77 481.55,409.67 481.9,409.36 482.25,409 482.59,409.08 482.94,409.51 483.28,409.06 483.63,409.91 483.98,408.98 484.32,408.77 484.67,409.49 485.02,408.77 485.36,410.3 485.71,409.13 486.06,409.55 486.4,409.46 486.75,409.2 487.09,408.78 487.44,408.73 487.79,409.96 488.13,410.03 488.48,410.55 488.83,408.91 489.17,409.82 489.52,409.57 489.86,409.95 490.21,409.34 490.56,409.9 490.9,409.98 491.25,409.85 491.6,410.22 491.94,409.49 492.29,410.27 492.63,409.26 492.98,410.32 493.33,408.34 493.67,409.58 494.02,409.21 494.37,409.57 494.71,410.04 495.06,409.9 495.41,409.62 495.75,410.34 496.1,408.91 496.44,409.21 496.79,410.25 497.14,409.72 497.48,408.64 497.83,409.73 498.18,409.04 498.52,410.24 498.87,410.09 499.21,409.33 499.56,410.15 499.91,409.2 500.25,409.99 500.6,409.83 500.95,409.52 501.29,408.93 501.64,409.45 501.98,408.54 502.33,409.32 502.68,408.74 503.02,410.12 503.37,409.14 503.72,408.48 504.06,409.84 504.41,409.74 504.76,409.34 505.1,410.53 505.45,409.92 505.79,409.6 506.14,409.28 506.49,408.24 506.83,409.79 507.18,410 507.53,409.31 507.87,408.94 508.22,409.55 508.56,408.82 508.91,409.58 509.26,409.92 509.6,410.25 509.95,409.69 510.3,409.66 510.64,409.91 510.99,410.2 511.33,409.43 511.68,409.02 512.03,409.22 512.37,409.01 512.72,409.17 513.07,409.52 513.41,409.73 513.76,409.64 514.11,409.6 514.45,409.41 514.8,409.76 515.14,409.97 515.49,409.91 515.84,410.25 516.18,409.44 516.53,409.46 516.88,410.33 517.22,409.66 517.57,409.76 517.91,409.42 518.26,410.01 518.61,409.39 518.95,409.12 519.3,409.55 519.65,409.37 519.99,409.95 520.34,409.4 520.69,409.63 521.03,409.47 521.38,409.73 521.72,409.29 522.07,410.07 522.42,408.93 522.76,409.4 523.11,409.25 523.46,409.86 523.8,409.59 524.15,409.79 524.49,409.42 524.84,409.25 525.19,409.07 525.53,409.42 525.88,409.33 526.23,409.7 526.57,409.73 526.92,410.01 527.26,409.52 527.61,409.24 527.96,409.09 528.3,409.6 528.65,409.73"/>
<g fill="#0000ff">
<rect x="357.37" y="409.81" width="1.4" height="1.4"/>
<rect x="521.56" y="408.45" width="1.4" height="1.4"/>
<rect x="417.76" y="408.96" width="1.4" height="1.4"/>
<rect x="491.24" y="408.33" width="1.4" height="1.4"/>
<rect x="398.37" y="408.46" width="1.4" height="1.4"/>
<rect x="374.1" y="410.38" width="1.4" height="1.4"/>
<rect x="397.79" y="409.51" width="1.4" height="1.4"/>
<rect x="420.73" y="407.99" width="1.4" height="1.4"/>
<rect x="487.22" y="408.98" width="1.4" height="1.4"/>
<rect x="392.72" y="409.93" width="1.4" height="1.4"/>
<rect x="421.32" y="407.77" width="1.4" height="1.4"/>
<rect x="436.49" y="408.37" width="1.4" height="1.4"/>
<rect x="505.38" y="410.27" width="1.4" height="1.4"/>
<rect x="499.63" y="409.33" width="1.4" height="1.4"/>
<rect x="395.46" y="410.33" width="1.4" height="1.4"/>
<rect x="374.86" y="409.65" width="1.4" height="1.4"/>
<rect x="434.44" y="407.38" width="1.4" height="1.4"/>
<rect x="375.19" y="409.02" width="1.4" height="1.4"/>
<rect x="437.83" y="407.5" width="1.4" height="1.4"/>
<rect x="431.03" y="408.45" width="1.4" height="1.4"/>
<rect x="375.29" y="410.31" width="1.4" height="1.4"/>
<rect x="436.04" y="407.73" width="1.4" height="1.4"/>
<rect x="516.97" y="408.51" width="1.4" height="1.4"/>
<rect x="393.31" y="409.15" width="1.4" height="1.4"/>
<rect x="483.66" y="407.01" width="1.4" height="1.4"/>
<rect x="521.45" y="408.09" width="1.4" height="1.4"/>
<rect x="503.35" y="410.72" width="1.4" height="1.4"/>
<rect x="445.68" y="408.15" width="1.4" height="1.4"/>
<rect x="396.31" y="410.23" width="1.4" height="1.4"/>
<rect x="391.57" y="411.04" width="1.4" height="1.4"/>
<rect x="369.19" y="409.33" width="1.4" height="1.4"/>
<rect x="434.61" y="409.73" width="1.4" height="1.4"/>
<rect x="481.43" y="409.85" width="1.4" height="1.4"/>
<rect x="409.83" y="409.77" width="1.4" height="1.4"/>
<rect x="390.35" y="408.79" width="1.4" height="1.4"/>
<rect x="375.53" y="408.64" width="1.4" height="1.4"/>
<rect x="525.21" y="408.25" width="1.4" height="1.4"/>
<rect x="356.68" y="409.55" width="1.4" height="1.4"/>
<rect x="467.86" y="408.65" width="1.4" height="1.4"/>
<rect x="436.23" y="407.3" width="1.4" height="1.4"/>
<rect x="483.01" y="408.16" width="1.4" height="1.4"/>
<rect x="441.2" y="406.68" width="1.4" height="1.4"/>
<rect x="459.54" y="406.12" width="1.4" height="1.4"/>
<rect x="493.95" y="408.42" width="1.4" height="1.4"/>
<rect x="518.53" y="408.75" width="1.4" height="1.4"/>
<rect x="418.47" y="407.01" width="1.4" height="1.4"/>
<rect x="511.11" y="409.17" width="1.4" height="1.4"/>
<rect x="458.34" y="407.04" width="1.4" height="1.4"/>
<rect x="510.91" y="409.48" width="1.4" height="1.4"/>
<rect x="361.02" y="409.89" width="1.4" height="1.4"/>
<rect x="430.82" y="408.24" width="1.4" height="1.4"/>
<rect x="484.48" y="409.38" width="1.4" height="1.4"/>
<rect x="455.8" y="407.38" width="1.4" height="1.4"/>
<rect x="472.39" y="408.5" width="1.4" height="1.4"/>
<rect x="356.98" y="410.17" width="1.4" height="1.4"/>
<rect x="437.4" y="406.98" width="1.4" height="1.4"/>
<rect x="443.39" y="407.77" width="1.4" height="1.4"/>
<rect x="526.54" y="408.5" width="1.4" height="1.4"/>
<rect x="462.36" y="408.2" width="1.4" height="1.4"/>
<rect x="389.76" y="411.14" width="1.4" height="1.4"/>
<rect x="527.88" y="408.18" width="1.4" height="1.4"/>
<rect x="521.23" y="409.07" width="1.4" height="1.4"/>
<rect x="410.52" y="408.51" width="1.4" height="1.4"/>
<rect x="470.58" y="409.38" width="1.4" height="1.4"/>
<rect x="358.77" y="409.1" width="1.4" height="1.4"/>
<rect x="498.17" y="409.3" width="1.4" height="1.4"/>
<rect x="354.83" y="408.84" width="1.4" height="1.4"/>
<rect x="433.44" y="407.1" width="1.4" height="1.4"/>
<rect x="452.09" y="406.38" width="1.4" height="1.4"/>
<rect x="396.43" y="408.75" width="1.4" height="1.4"/>
<rect x="375.67" y="409.99" width="1.4" height="1.4"/>
<rect x="378.54" y="409.25" width="1.4" height="1.4"/>
<rect x="445.22" y="404.81" width="1.4" height="1.4"/>
<rect x="364.66" y="408.55" width="1.4" height="1.4"/>
<rect x="395.37" y="409.93" width="1.4" height="1.4"/>
<rect x="433.14" y="408.76" width="1.4" height="1.4"/>
<rect x="425.61" y="409.44" width="1.4" height="1.4"/>
<rect x="503.75" y="407.92" width="1.4" height="1.4"/>
<rect x="520.49" y="408.59" width="1.4" height="1.4"/>
<rect x="425.4" y="410.7" width="1.4" height="1.4"/>
<rect x="363.73" y="409.97" width="1.4" height="1.4"/>
<rect x="357.83" y="409.26" width="1.4" height="1.4"/>
<rect x="404.95" y="408.64" width="1.4" height="1.4"/>
<rect x="505.52" y="411.41" width="1.4" height="1.4"/>
<rect x="427.54" y="406.22" width="1.4" height="1.4"/>
<rect x="494.54" y="408.52" width="1.4" height="1.4"/>
<rect x="467.94" y="408.38" width="1.4" height="1.4"/>
<rect x="397" y="409.23" width="1.4" height="1.4"/>
<rect x="468.75" y="407.33" width="1.4" height="1.4"/>
<rect x="510.42" y="407.94" width="1.4" height="1.4"/>
<rect x="521.44" y="409.01" width="1.4" height="1.4"/>
<rect x="510.21" y="409.24" width="1.4" height="1.4"/>
<rect x="453.55" y="407.12" width="1.4" height="1.4"/>
<rect x="399.07" y="410.67" width="1.4" height="1.4"/>
<rect x="395.76" y="408.46" width="1.4" height="1.4"/>
<rect x="472.09" y="409.78" width="1.4" height="1.4"/>
<rect x="367.51" y="409.49" width="1.4" height="1.4"/>
<rect x="436.47" y="405.9" width="1.4" height="1.4"/>
<rect x="471.18" y="408.91" width="1.4" height="1.4"/>
<rect x="437.11" y="407.1" width="1.4" height="1.4"/>
<rect x="472.19" y="408.51" width="1.4" height="1.4"/>
<rect x="386.01" y="407.91" width="1.4" height="1.4"/>
<rect x="520.76" y="409.03" width="1.4" height="1.4"/>
<rect x="429.37" y="407.25" width="1.4" height="1.4"/>
<rect x="520.66" y="409.15" width="1.4" height="1.4"/>
<rect x="521.3" y="409.86" width="1.4" height="1.4"/>
<rect x="510.65" y="409.05" width="1.4" height="1.4"/>
<rect x="417.08" y="410.74" width="1.4" height="1.4"/>
<rect x="469.66" y="408.93" width="1.4" height="1.4"/>
<rect x="393.34" y="408.76" width="1.4" height="1.4"/>
<rect x="392.02" y="409.25" width="1.4" height="1.4"/>
<rect x="378.35" y="409.66" width="1.4" height="1.4"/>
<rect x="425.12" y="408.01" width="1.4" height="1.4"/>
<rect x="455.63" y="406.63" width="1.4" height="1.4"/>
<rect x="517.97" y="408.04" width="1.4" height="1.4"/>
<rect x="476.77" y="408.44" width="1.4" height="1.4"/>
<rect x="430.5" y="408.37" width="1.4" height="1.4"/>
<rect x="357.85" y="410.52" width="1.4" height="1.4"/>
<rect x="471.84" y="409.38" width="1.4" height="1.4"/>
<rect x="521.45" y="409.69" width="1.4" height="1.4"/>
<rect x="487.57" y="409.61" width="1.4" height="1.4"/>
<rect x="464.68" y="407.64" width="1.4" height="1.4"/>
<rect x="476.85" y="409.52" width="1.4" height="1.4"/>
<rect x="487.47" y="408.73" width="1.4" height="1.4"/>
<rect x="406.89" y="409.21" width="1.4" height="1.4"/>
<rect x="458.88" y="408.24" width="1.4" height="1.4"/>
<rect x="501.92" y="409.82" width="1.4" height="1.4"/>
<rect x="389.14" y="408.35" width="1.4" height="1.4"/>
<rect x="357.4" y="407.92" width="1.4" height="1.4"/>
<rect x="401.97" y="408.92" width="1.4" height="1.4"/>
<rect x="366.93" y="410.18" width="1.4" height="1.4"/>
<rect x="475.29" y="408.89" width="1.4" height="1.4"/>
<rect x="355.48" y="409.55" width="1.4" height="1.4"/>
<rect x="477.93" y="409.65" width="1.4" height="1.4"/>
<rect x="525.74" y="409.36" width="1.4" height="1.4"/>
<rect x="516.63" y="408.93" width="1.4" height="1.4"/>
<rect x="522.75" y="409.41" width="1.4" height="1.4"/>
<rect x="445.24" y="407.36" width="1.4" height="1.4"/>
<rect x="410.24" y="408.28" width="1.4" height="1.4"/>
<rect x="399.56" y="409.84" width="1.4" height="1.4"/>
<rect x="364.32" y="410.09" width="1.4" height="1.4"/>
<rect x="370.63" y="409.83" width="1.4" height="1.4"/>
<rect x="462.85" y="407.79" width="1.4" height="1.4"/>
<rect x="491.89" y="408.13" width="1.4" height="1.4"/>
<rect x="480.99" y="408.24" width="1.4" height="1.4"/>
<rect x="387.42" y="410.27" width="1.4" height="1.4"/>
<rect x="515.65" y="408.57" width="1.4" height="1.4"/>
<rect x="381.45" y="409.23" width="1.4" height="1.4"/>
<rect x="474.73" y="407.68" width="1.4" height="1.4"/>
<rect x="394.52" y="410.32" width="1.4" height="1.4"/>
<rect x="492.83" y="409.02" width="1.4" height="1.4"/>
<rect x="456.3" y="406.01" width="1.4" height="1.4"/>
<rect x="387.92" y="408.82" width="1.4" height="1.4"/>
<rect x="491.81" y="407.13" width="1.4" height="1.4"/>
<rect x="394.84" y="410.5" width="1.4" height="1.4"/>
<rect x="452.63" y="407.31" width="1.4" height="1.4"/>
<rect x="378.73" y="409.85" width="1.4" height="1.4"/>
<rect x="373.48" y="410.72" width="1.4" height="1.4"/>
<rect x="464.57" y="408.91" width="1.4" height="1.4"/>
<rect x="428.12" y="408.85" width="1.4" height="1.4"/>
<rect x="447.12" y="406.56" width="1.4" height="1.4"/>
<rect x="480.22" y="408.62" width="1.4" height="1.4"/>
<rect x="393.06" y="408.92" width="1.4" height="1.4"/>
<rect x="474.48" y="410.25" width="1.4" height="1.4"/>
<rect x="461.24" y="407.82" width="1.4" height="1.4"/>
<rect x="408.67" y="408.88" width="1.4" height="1.4"/>
<rect x="469.51" y="408.83" width="1.4" height="1.4"/>
<rect x="393.99" y="409.86" width="1.4" height="1.4"/>
<rect x="488.35" y="409.61" width="1.4" height="1.4"/>
<rect x="520.8" y="407.47" width="1.4" height="1.4"/>
</g>
<rect x="338.2" y="252.0" width="207.8" height="167.5" fill="none" stroke="#444" stroke-width="1"/>
<line x1="338.2" y1="419.5" x2="341.2" y2="419.5" stroke="#333" stroke-width="0.8" />
<text x="333.8" y="423.8" font-size="12.5" text-anchor="end" fill="#1a1a1a" stroke="#1a1a1a" stroke-width="0.14" font-weight="normal" >&#8722;60</text>
<line x1="338.2" y1="403.8" x2="340" y2="403.8" stroke="#333" stroke-width="0.8" />
<line x1="338.2" y1="388.09" x2="341.2" y2="388.09" stroke="#333" stroke-width="0.8" />
<text x="333.8" y="392.39" font-size="12.5" text-anchor="end" fill="#1a1a1a" stroke="#1a1a1a" stroke-width="0.14" font-weight="normal" >&#8722;45</text>
<line x1="338.2" y1="372.38" x2="340" y2="372.38" stroke="#333" stroke-width="0.8" />
<line x1="338.2" y1="356.68" x2="341.2" y2="356.68" stroke="#333" stroke-width="0.8" />
<text x="333.8" y="360.98" font-size="12.5" text-anchor="end" fill="#1a1a1a" stroke="#1a1a1a" stroke-width="0.14" font-weight="normal" >&#8722;30</text>
<line x1="338.2" y1="340.98" x2="340" y2="340.98" stroke="#333" stroke-width="0.8" />
<line x1="338.2" y1="325.27" x2="341.2" y2="325.27" stroke="#333" stroke-width="0.8" />
<text x="333.8" y="329.57" font-size="12.5" text-anchor="end" fill="#1a1a1a" stroke="#1a1a1a" stroke-width="0.14" font-weight="normal" >&#8722;15</text>
<line x1="338.2" y1="309.56" x2="340" y2="309.56" stroke="#333" stroke-width="0.8" />
<line x1="338.2" y1="293.86" x2="341.2" y2="293.86" stroke="#333" stroke-width="0.8" />
<text x="333.8" y="298.16" font-size="12.5" text-anchor="end" fill="#1a1a1a" stroke="#1a1a1a" stroke-width="0.14" font-weight="normal" >0</text>
<line x1="338.2" y1="278.15" x2="340" y2="278.15" stroke="#333" stroke-width="0.8" />
<line x1="338.2" y1="262.45" x2="341.2" y2="262.45" stroke="#333" stroke-width="0.8" />
<text x="333.8" y="266.75" font-size="12.5" text-anchor="end" fill="#1a1a1a" stroke="#1a1a1a" stroke-width="0.14" font-weight="normal" >15</text>
<line x1="338.19" y1="419.5" x2="338.19" y2="417.7" stroke="#333" stroke-width="0.8" />
<line x1="355.5" y1="419.5" x2="355.5" y2="416.5" stroke="#333" stroke-width="0.8" />
<text x="355.5" y="434.2" font-size="12.5" text-anchor="middle" fill="#1a1a1a" stroke="#1a1a1a" stroke-width="0.14" font-weight="normal" >0</text>
<line x1="372.81" y1="419.5" x2="372.81" y2="417.7" stroke="#333" stroke-width="0.8" />
<line x1="390.13" y1="419.5" x2="390.13" y2="416.5" stroke="#333" stroke-width="0.8" />
<text x="390.13" y="434.2" font-size="12.5" text-anchor="middle" fill="#1a1a1a" stroke="#1a1a1a" stroke-width="0.14" font-weight="normal" >1</text>
<line x1="407.44" y1="419.5" x2="407.44" y2="417.7" stroke="#333" stroke-width="0.8" />
<line x1="424.76" y1="419.5" x2="424.76" y2="416.5" stroke="#333" stroke-width="0.8" />
<text x="424.76" y="434.2" font-size="12.5" text-anchor="middle" fill="#1a1a1a" stroke="#1a1a1a" stroke-width="0.14" font-weight="normal" >2</text>
<line x1="442.07" y1="419.5" x2="442.07" y2="417.7" stroke="#333" stroke-width="0.8" />
<line x1="459.39" y1="419.5" x2="459.39" y2="416.5" stroke="#333" stroke-width="0.8" />
<text x="459.39" y="434.2" font-size="12.5" text-anchor="middle" fill="#1a1a1a" stroke="#1a1a1a" stroke-width="0.14" font-weight="normal" >3</text>
<line x1="476.71" y1="419.5" x2="476.71" y2="417.7" stroke="#333" stroke-width="0.8" />
<line x1="494.02" y1="419.5" x2="494.02" y2="416.5" stroke="#333" stroke-width="0.8" />
<text x="494.02" y="434.2" font-size="12.5" text-anchor="middle" fill="#1a1a1a" stroke="#1a1a1a" stroke-width="0.14" font-weight="normal" >4</text>
<line x1="511.34" y1="419.5" x2="511.34" y2="417.7" stroke="#333" stroke-width="0.8" />
<line x1="528.65" y1="419.5" x2="528.65" y2="416.5" stroke="#333" stroke-width="0.8" />
<text x="528.65" y="434.2" font-size="12.5" text-anchor="middle" fill="#1a1a1a" stroke="#1a1a1a" stroke-width="0.14" font-weight="normal" >5</text>
<line x1="545.97" y1="419.5" x2="545.97" y2="417.7" stroke="#333" stroke-width="0.8" />
<text x="302.6" y="249.4" font-size="13.8" text-anchor="start" fill="#111" stroke="#111" stroke-width="0.14" font-weight="bold" >(d)</text>
<text id="D_tb" x="442.2" y="453.8" font-size="12.8" text-anchor="middle" fill="#1a1a1a" stroke="#1a1a1a" stroke-width="0.14" font-weight="normal" textLength="127.51" lengthAdjust="spacingAndGlyphs">Time of measurement (h)</text>
<text id="D_tl" transform="translate(311,333.6) rotate(-90)" font-size="12.6" text-anchor="middle" fill="#1a1a1a" stroke="#1a1a1a" stroke-width="0.14" font-weight="normal" textLength="60.56" lengthAdjust="spacingAndGlyphs">Output (&#176;/h)</text>
<text id="D_a1" x="515.8" y="272.3" font-size="12" text-anchor="end" fill="#1a1a1a" stroke="#1a1a1a" stroke-width="0.14" font-weight="normal" textLength="28.02" lengthAdjust="spacingAndGlyphs">7.9 <tspan font-size="9">&#176;</tspan>/h</text>
<text id="D_a2" x="527.75" y="308.1" font-size="12" text-anchor="end" fill="#1a1a1a" stroke="#1a1a1a" stroke-width="0.14" font-weight="normal" textLength="32.15" lengthAdjust="spacingAndGlyphs">&#8722;8.7 <tspan font-size="9">&#176;</tspan>/h</text>
<text id="D_a3" x="537" y="368" font-size="12" text-anchor="end" fill="#1a1a1a" stroke="#1a1a1a" stroke-width="0.14" font-weight="normal" textLength="38.66" lengthAdjust="spacingAndGlyphs">&#8722;37.5 <tspan font-size="9">&#176;</tspan>/h</text>
<text id="D_a4" x="528.2" y="405.8" font-size="12" text-anchor="end" fill="#1a1a1a" stroke="#1a1a1a" stroke-width="0.14" font-weight="normal" textLength="39.81" lengthAdjust="spacingAndGlyphs">&#8722;55.2 <tspan font-size="9">&#176;</tspan>/h</text>
<circle cx="347.9" cy="323.2" r="1.2" fill="#8a1010"/>
<text id="D_l1" x="359.2" y="326.4" font-size="11.3" text-anchor="start" fill="#1a1a1a" stroke="#1a1a1a" stroke-width="0.14" font-weight="normal" textLength="99.49" lengthAdjust="spacingAndGlyphs">With periodic flip (axis </text>
<line x1="464.2" y1="318.2" x2="464.2" y2="323.8" stroke="#ff1010" stroke-width="1.7" />
<path d="M462.3 322.6L466.1 322.6L464.2 326.8Z" fill="#ff1010"/>
<text x="468.4" y="326" font-size="10.6" text-anchor="start" fill="#1a1a1a" stroke="#1a1a1a" stroke-width="0.14" font-weight="normal" >)</text>
<circle cx="347.9" cy="336.2" r="1.2" fill="#1a1aff"/>
<text id="D_l2" x="359.35" y="339.4" font-size="11.3" text-anchor="start" fill="#1a1a1a" stroke="#1a1a1a" stroke-width="0.14" font-weight="normal" textLength="114.41" lengthAdjust="spacingAndGlyphs">Without periodic flip (axis </text>
<line x1="477.9" y1="331.2" x2="477.9" y2="336.8" stroke="#ff1010" stroke-width="1.7" />
<path d="M476 335.6L479.8 335.6L477.9 339.8Z" fill="#ff1010"/>
<text x="480.5" y="339" font-size="10.6" text-anchor="start" fill="#1a1a1a" stroke="#1a1a1a" stroke-width="0.14" font-weight="normal" >)</text>
<circle cx="347.9" cy="349.4" r="1.2" fill="#9a30b0"/>
<text id="D_l3" x="359.2" y="352.6" font-size="11.3" text-anchor="start" fill="#1a1a1a" stroke="#1a1a1a" stroke-width="0.14" font-weight="normal" textLength="99.49" lengthAdjust="spacingAndGlyphs">With periodic flip (axis </text>
<line x1="464.2" y1="347.4" x2="464.2" y2="353" stroke="#ff1010" stroke-width="1.7" />
<path d="M462.3 348.6L466.1 348.6L464.2 344.4Z" fill="#ff1010"/>
<text x="468.4" y="352.2" font-size="10.6" text-anchor="start" fill="#1a1a1a" stroke="#1a1a1a" stroke-width="0.14" font-weight="normal" >)</text>
<circle cx="347.9" cy="362.2" r="1.2" fill="#0a9a0a"/>
<text id="D_l4" x="359.35" y="365.4" font-size="11.3" text-anchor="start" fill="#1a1a1a" stroke="#1a1a1a" stroke-width="0.14" font-weight="normal" textLength="114.41" lengthAdjust="spacingAndGlyphs">Without periodic flip (axis </text>
<line x1="477.9" y1="360.2" x2="477.9" y2="365.8" stroke="#ff1010" stroke-width="1.7" />
<path d="M476 361.4L479.8 361.4L477.9 357.2Z" fill="#ff1010"/>
<text x="480.5" y="365" font-size="10.6" text-anchor="start" fill="#1a1a1a" stroke="#1a1a1a" stroke-width="0.14" font-weight="normal" >)</text>
</svg>
</body></html>
